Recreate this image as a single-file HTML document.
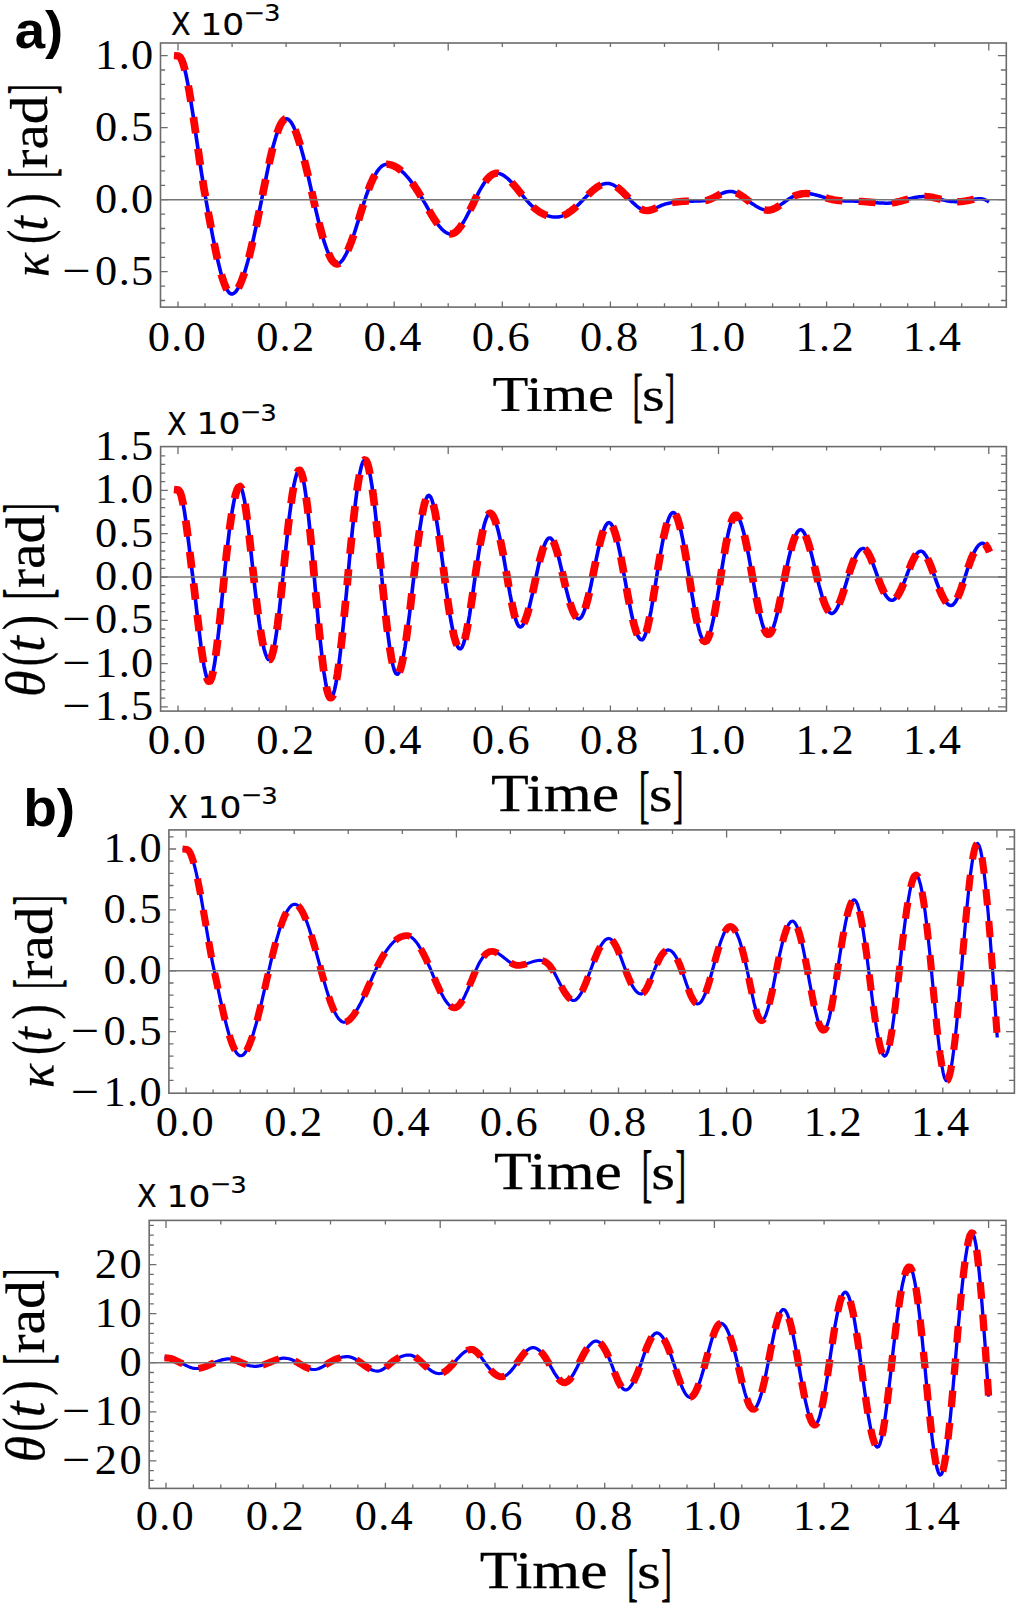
<!DOCTYPE html>
<html lang="en"><head><meta charset="utf-8"><title>Figure</title>
<style>html,body{margin:0;padding:0;background:#fff}svg{display:block}.sf{font-family:"Liberation Serif","DejaVu Serif",serif}.ss{font-family:"Liberation Sans","DejaVu Sans",sans-serif}.sc{font-family:"DejaVu Sans Condensed","DejaVu Sans","Liberation Sans",sans-serif}text{fill:#000}</style></head><body>
<svg width="1025" height="1603" viewBox="0 0 1025 1603">
<rect width="1025" height="1603" fill="#fff"/>
<g>
<path d="M160.5 300.5h4.6M1006.3 300.5h-5.4M160.5 286.1h4.6M1006.3 286.1h-5.4M160.5 271.7h7.2M1006.3 271.7h-8.4M160.5 257.3h4.6M1006.3 257.3h-5.4M160.5 242.9h4.6M1006.3 242.9h-5.4M160.5 228.5h4.6M1006.3 228.5h-5.4M160.5 214.1h4.6M1006.3 214.1h-5.4M160.5 199.7h7.2M1006.3 199.7h-8.4M160.5 185.3h4.6M1006.3 185.3h-5.4M160.5 170.9h4.6M1006.3 170.9h-5.4M160.5 156.5h4.6M1006.3 156.5h-5.4M160.5 142.1h4.6M1006.3 142.1h-5.4M160.5 127.7h7.2M1006.3 127.7h-8.4M160.5 113.3h4.6M1006.3 113.3h-5.4M160.5 98.9h4.6M1006.3 98.9h-5.4M160.5 84.4h4.6M1006.3 84.4h-5.4M160.5 70.0h4.6M1006.3 70.0h-5.4M160.5 55.6h7.2M1006.3 55.6h-8.4M178.0 307.1v-5.6M205.0 307.1v-3.8M232.1 307.1v-3.8M259.1 307.1v-3.8M286.1 307.1v-5.6M313.1 307.1v-3.8M340.2 307.1v-3.8M367.2 307.1v-3.8M394.2 307.1v-5.6M421.2 307.1v-3.8M448.2 307.1v-3.8M475.3 307.1v-3.8M502.3 307.1v-5.6M529.3 307.1v-3.8M556.4 307.1v-3.8M583.4 307.1v-3.8M610.4 307.1v-5.6M637.4 307.1v-3.8M664.5 307.1v-3.8M691.5 307.1v-3.8M718.5 307.1v-5.6M745.5 307.1v-3.8M772.6 307.1v-3.8M799.6 307.1v-3.8M826.6 307.1v-5.6M853.6 307.1v-3.8M880.6 307.1v-3.8M907.7 307.1v-3.8M934.7 307.1v-5.6M961.7 307.1v-3.8M988.8 307.1v-3.8M178.0 43v7.5M232.1 43v4M286.1 43v4M340.2 43v4M394.2 43v4M448.2 43v7.5M502.3 43v4M556.4 43v4M610.4 43v4M664.5 43v4M718.5 43v7.5M772.6 43v4M826.6 43v4M880.6 43v4M934.7 43v4M988.8 43v7.5" stroke="#6c6c6c" stroke-width="1.3" fill="none"/>
<rect x="160.5" y="43" width="845.8" height="264.1" fill="none" stroke="#6c6c6c" stroke-width="1.6"/>
<g transform="scale(1.045 1)" fill="none" stroke-linejoin="round">
<path d="M166.5 55.6L167.9 55.7L169.4 55.8L170.8 55.9L172.2 56.9L173.7 59.5L175.1 63.3L176.6 68.5L178.0 74.7L179.4 82.0L180.9 90.0L182.3 98.8L183.7 108.2L185.2 118.1L186.6 128.2L188.0 138.6L189.5 149.0L190.9 159.4L192.3 169.5L193.8 179.3L195.2 188.7L196.7 197.5L198.1 205.7L199.5 213.9L201.0 222.0L202.4 230.0L203.8 237.7L205.3 245.2L206.7 252.4L208.1 259.2L209.6 265.5L211.0 271.4L212.4 276.7L213.9 281.4L215.3 285.4L216.7 288.8L218.2 291.3L219.6 293.1L221.1 293.9L222.5 293.9L223.9 293.2L225.4 291.9L226.8 290.0L228.2 287.5L229.7 284.5L231.1 281.0L232.5 277.1L234.0 272.7L235.4 267.8L236.8 262.6L238.3 257.1L239.7 251.1L241.1 244.9L242.6 238.4L244.0 231.7L245.5 224.7L246.9 217.5L248.3 210.2L249.8 202.7L251.2 195.2L252.6 187.7L254.1 180.3L255.5 173.1L256.9 166.1L258.4 159.4L259.8 153.0L261.2 147.0L262.7 141.5L264.1 136.4L265.6 131.9L267.0 127.9L268.4 124.6L269.9 122.0L271.3 120.1L272.7 119.0L274.2 118.7L275.6 119.2L277.0 120.4L278.5 122.2L279.9 124.6L281.3 127.6L282.8 131.1L284.2 135.1L285.6 139.6L287.1 144.4L288.5 149.6L290.0 155.2L291.4 161.0L292.8 167.0L294.3 173.3L295.7 179.8L297.1 186.3L298.6 193.0L300.0 199.7L301.4 206.3L302.9 212.8L304.3 219.0L305.7 225.0L307.2 230.7L308.6 236.1L310.0 241.1L311.5 245.7L312.9 249.9L314.4 253.6L315.8 256.8L317.2 259.5L318.7 261.6L320.1 263.0L321.5 263.8L323.0 264.0L324.4 263.5L325.8 262.4L327.3 260.8L328.7 258.7L330.1 256.2L331.6 253.3L333.0 250.0L334.4 246.4L335.9 242.5L337.3 238.3L338.8 234.0L340.2 229.4L341.6 224.8L343.1 220.0L344.5 215.2L345.9 210.4L347.4 205.6L348.8 200.9L350.2 196.4L351.7 192.1L353.1 188.1L354.5 184.4L356.0 180.9L357.4 177.8L358.9 175.0L360.3 172.5L361.7 170.3L363.2 168.4L364.6 166.9L366.0 165.7L367.5 164.9L368.9 164.4L370.3 164.3L371.8 164.4L373.2 164.7L374.6 165.0L376.1 165.6L377.5 166.2L378.9 167.0L380.4 167.9L381.8 169.0L383.3 170.2L384.7 171.4L386.1 172.8L387.6 174.3L389.0 176.0L390.4 177.7L391.9 179.5L393.3 181.4L394.7 183.4L396.2 185.5L397.6 187.7L399.0 190.0L400.5 192.4L401.9 194.8L403.3 197.3L404.8 199.9L406.2 202.5L407.7 205.1L409.1 207.8L410.5 210.4L412.0 213.0L413.4 215.5L414.8 217.9L416.3 220.2L417.7 222.5L419.1 224.5L420.6 226.5L422.0 228.2L423.4 229.8L424.9 231.1L426.3 232.2L427.8 233.1L429.2 233.7L430.6 234.0L432.1 233.9L433.5 233.5L434.9 232.8L436.4 231.7L437.8 230.3L439.2 228.6L440.7 226.6L442.1 224.5L443.5 222.1L445.0 219.5L446.4 216.8L447.8 213.9L449.3 211.0L450.7 208.0L452.2 204.9L453.6 201.8L455.0 198.7L456.5 195.7L457.9 192.8L459.3 190.0L460.8 187.4L462.2 185.0L463.6 182.7L465.1 180.6L466.5 178.8L467.9 177.2L469.4 175.8L470.8 174.7L472.2 173.9L473.7 173.4L475.1 173.2L476.6 173.3L478.0 173.6L479.4 174.1L480.9 174.8L482.3 175.7L483.7 176.8L485.2 178.0L486.6 179.3L488.0 180.8L489.5 182.3L490.9 184.0L492.3 185.7L493.8 187.5L495.2 189.3L496.7 191.2L498.1 193.0L499.5 194.9L501.0 196.7L502.4 198.5L503.8 200.3L505.3 201.9L506.7 203.5L508.1 205.0L509.6 206.4L511.0 207.8L512.4 209.0L513.9 210.1L515.3 211.2L516.7 212.2L518.2 213.0L519.6 213.8L521.1 214.5L522.5 215.2L523.9 215.7L525.4 216.1L526.8 216.5L528.2 216.8L529.7 217.0L531.1 217.1L532.5 217.1L534.0 217.0L535.4 216.7L536.8 216.4L538.3 215.9L539.7 215.2L541.1 214.5L542.6 213.7L544.0 212.7L545.5 211.7L546.9 210.6L548.3 209.4L549.8 208.2L551.2 206.8L552.6 205.5L554.1 204.0L555.5 202.5L556.9 201.0L558.4 199.5L559.8 197.9L561.2 196.4L562.7 194.9L564.1 193.5L565.6 192.1L567.0 190.7L568.4 189.5L569.9 188.3L571.3 187.2L572.7 186.3L574.2 185.4L575.6 184.7L577.0 184.1L578.5 183.7L579.9 183.5L581.3 183.4L582.8 183.5L584.2 183.9L585.6 184.4L587.1 185.0L588.5 185.9L590.0 186.8L591.4 187.9L592.8 189.1L594.3 190.5L595.7 191.8L597.1 193.3L598.6 194.8L600.0 196.4L601.4 198.0L602.9 199.6L604.3 201.2L605.7 202.7L607.2 204.1L608.6 205.5L610.0 206.7L611.5 207.8L612.9 208.7L614.4 209.5L615.8 210.1L617.2 210.4L618.7 210.6L620.1 210.5L621.5 210.3L623.0 209.9L624.4 209.5L625.8 208.9L627.3 208.2L628.7 207.5L630.1 206.8L631.6 206.1L633.0 205.4L634.4 204.8L635.9 204.3L637.3 203.9L638.8 203.5L640.2 203.2L641.6 202.9L643.1 202.6L644.5 202.4L645.9 202.2L647.4 202.0L648.8 201.8L650.2 201.6L651.7 201.5L653.1 201.4L654.5 201.3L656.0 201.2L657.4 201.1L658.9 201.1L660.3 201.1L661.7 201.2L663.2 201.2L664.6 201.1L666.0 201.1L667.5 201.0L668.9 200.9L670.3 200.9L671.8 200.8L673.2 200.7L674.6 200.6L676.1 200.4L677.5 200.0L678.9 199.5L680.4 198.9L681.8 198.2L683.3 197.5L684.7 196.7L686.1 195.9L687.6 195.1L689.0 194.4L690.4 193.7L691.9 193.0L693.3 192.5L694.7 192.0L696.2 191.7L697.6 191.5L699.0 191.4L700.5 191.5L701.9 191.8L703.3 192.3L704.8 192.9L706.2 193.6L707.7 194.5L709.1 195.4L710.5 196.4L712.0 197.5L713.4 198.6L714.8 199.8L716.3 200.9L717.7 202.1L719.1 203.2L720.6 204.2L722.0 205.2L723.4 206.2L724.9 207.0L726.3 207.8L727.8 208.5L729.2 209.1L730.6 209.6L732.1 209.9L733.5 210.1L734.9 210.2L736.4 210.1L737.8 209.8L739.2 209.4L740.7 208.7L742.1 208.0L743.5 207.2L745.0 206.2L746.4 205.2L747.8 204.2L749.3 203.1L750.7 202.0L752.2 200.9L753.6 199.8L755.0 198.8L756.5 197.9L757.9 197.1L759.3 196.4L760.8 195.7L762.2 195.1L763.6 194.7L765.1 194.3L766.5 193.9L767.9 193.7L769.4 193.6L770.8 193.5L772.2 193.5L773.7 193.6L775.1 193.8L776.6 194.0L778.0 194.3L779.4 194.6L780.9 195.0L782.3 195.4L783.7 195.8L785.2 196.2L786.6 196.7L788.0 197.1L789.5 197.6L790.9 198.0L792.3 198.5L793.8 198.9L795.2 199.2L796.7 199.6L798.1 199.9L799.5 200.1L801.0 200.3L802.4 200.5L803.8 200.6L805.3 200.7L806.7 200.8L808.1 200.9L809.6 200.9L811.0 201.0L812.4 201.0L813.9 201.1L815.3 201.1L816.7 201.1L818.2 201.2L819.6 201.2L821.1 201.3L822.5 201.4L823.9 201.4L825.4 201.5L826.8 201.6L828.2 201.8L829.7 201.9L831.1 202.0L832.5 202.2L834.0 202.3L835.4 202.4L836.8 202.5L838.3 202.7L839.7 202.8L841.1 202.9L842.6 203.0L844.0 203.1L845.5 203.1L846.9 203.2L848.3 203.2L849.8 203.2L851.2 203.1L852.6 203.0L854.1 202.8L855.5 202.6L856.9 202.3L858.4 202.0L859.8 201.6L861.2 201.3L862.7 200.9L864.1 200.5L865.6 200.0L867.0 199.6L868.4 199.2L869.9 198.8L871.3 198.5L872.7 198.1L874.2 197.8L875.6 197.5L877.0 197.2L878.5 197.0L879.9 196.8L881.3 196.7L882.8 196.6L884.2 196.5L885.6 196.5L887.1 196.6L888.5 196.7L890.0 196.9L891.4 197.1L892.8 197.4L894.3 197.8L895.7 198.1L897.1 198.5L898.6 198.9L900.0 199.3L901.4 199.7L902.9 200.1L904.3 200.4L905.7 200.7L907.2 201.0L908.6 201.2L910.0 201.4L911.5 201.5L912.9 201.6L914.4 201.7L915.8 201.7L917.2 201.7L918.7 201.6L920.1 201.5L921.5 201.3L923.0 201.1L924.4 200.9L925.8 200.6L927.3 200.3L928.7 200.0L930.1 199.7L931.6 199.4L933.0 199.1L934.4 198.9L935.9 198.8L937.3 198.7L938.8 198.8L940.2 199.0L941.6 199.4L943.1 200.0L944.5 200.7L945.9 201.7L946.4 202.0" stroke="#0000ff" stroke-width="3.5"/>
<path d="M166.5 55.6L167.9 55.7L169.4 55.8L170.8 55.9L172.2 56.9L173.7 59.5L175.1 63.3L176.6 68.5L178.0 74.7L179.4 82.0L180.9 90.0L182.3 98.8L183.7 108.2L185.2 118.1L186.6 128.2L188.0 138.6L189.5 149.0L190.9 159.4L192.3 169.5L193.8 179.3L195.2 188.7L196.7 197.5L198.1 205.7L199.5 213.9L201.0 222.0L202.4 230.0L203.8 237.7L205.3 245.2L206.7 252.4L208.1 259.2L209.6 265.5L211.0 271.4L212.4 276.7L213.9 281.4L215.3 285.4L216.7 288.8L218.2 291.3L219.6 293.1L221.1 293.9L222.5 293.9L223.9 293.2L225.4 291.9L226.8 290.0L228.2 287.5L229.7 284.5L231.1 281.0L232.5 277.1L234.0 272.7L235.4 267.8L236.8 262.6L238.3 257.1L239.7 251.1L241.1 244.9L242.6 238.4L244.0 231.7L245.5 224.7L246.9 217.5L248.3 210.2L249.8 202.7L251.2 195.2L252.6 187.7L254.1 180.3L255.5 173.1L256.9 166.1L258.4 159.4L259.8 153.0L261.2 147.0L262.7 141.5L264.1 136.4L265.6 131.9L267.0 127.9L268.4 124.6L269.9 122.0L271.3 120.1L272.7 119.0L274.2 118.7L275.6 119.2L277.0 120.4L278.5 122.2L279.9 124.6L281.3 127.6L282.8 131.1L284.2 135.1L285.6 139.6L287.1 144.4L288.5 149.6L290.0 155.2L291.4 161.0L292.8 167.0L294.3 173.3L295.7 179.8L297.1 186.3L298.6 193.0L300.0 199.7L301.4 206.3L302.9 212.8L304.3 219.0L305.7 225.0L307.2 230.7L308.6 236.1L310.0 241.1L311.5 245.7L312.9 249.9L314.4 253.6L315.8 256.8L317.2 259.5L318.7 261.6L320.1 263.0L321.5 263.8L323.0 264.0L324.4 263.5L325.8 262.4L327.3 260.8L328.7 258.7L330.1 256.2L331.6 253.3L333.0 250.0L334.4 246.4L335.9 242.5L337.3 238.3L338.8 234.0L340.2 229.4L341.6 224.8L343.1 220.0L344.5 215.2L345.9 210.4L347.4 205.6L348.8 200.9L350.2 196.4L351.7 192.1L353.1 188.1L354.5 184.4L356.0 180.9L357.4 177.8L358.9 175.0L360.3 172.5L361.7 170.3L363.2 168.4L364.6 166.9L366.0 165.7L367.5 164.9L368.9 164.4L370.3 164.3L371.8 164.4L373.2 164.7L374.6 165.0L376.1 165.6L377.5 166.2L378.9 167.0L380.4 167.9L381.8 169.0L383.3 170.2L384.7 171.4L386.1 172.8L387.6 174.3L389.0 176.0L390.4 177.7L391.9 179.5L393.3 181.4L394.7 183.4L396.2 185.5L397.6 187.7L399.0 190.0L400.5 192.4L401.9 194.8L403.3 197.3L404.8 199.9L406.2 202.5L407.7 205.1L409.1 207.8L410.5 210.4L412.0 213.0L413.4 215.5L414.8 217.9L416.3 220.2L417.7 222.5L419.1 224.5L420.6 226.5L422.0 228.2L423.4 229.8L424.9 231.1L426.3 232.2L427.8 233.1L429.2 233.7L430.6 234.0L432.1 233.9L433.5 233.5L434.9 232.8L436.4 231.7L437.8 230.3L439.2 228.6L440.7 226.6L442.1 224.5L443.5 222.1L445.0 219.5L446.4 216.8L447.8 213.9L449.3 211.0L450.7 208.0L452.2 204.9L453.6 201.8L455.0 198.7L456.5 195.7L457.9 192.8L459.3 190.0L460.8 187.4L462.2 185.0L463.6 182.7L465.1 180.6L466.5 178.8L467.9 177.2L469.4 175.8L470.8 174.7L472.2 173.9L473.7 173.4L475.1 173.2L476.6 173.3L478.0 173.6L479.4 174.1L480.9 174.8L482.3 175.7L483.7 176.8L485.2 178.0L486.6 179.3L488.0 180.8L489.5 182.3L490.9 184.0L492.3 185.7L493.8 187.5L495.2 189.3L496.7 191.2L498.1 193.0L499.5 194.9L501.0 196.7L502.4 198.5L503.8 200.3L505.3 201.9L506.7 203.5L508.1 205.0L509.6 206.4L511.0 207.8L512.4 209.0L513.9 210.1L515.3 211.2L516.7 212.2L518.2 213.0L519.6 213.8L521.1 214.5L522.5 215.2L523.9 215.7L525.4 216.1L526.8 216.5L528.2 216.8L529.7 217.0L531.1 217.1L532.5 217.1L534.0 217.0L535.4 216.7L536.8 216.4L538.3 215.9L539.7 215.2L541.1 214.5L542.6 213.7L544.0 212.7L545.5 211.7L546.9 210.6L548.3 209.4L549.8 208.2L551.2 206.8L552.6 205.5L554.1 204.0L555.5 202.5L556.9 201.0L558.4 199.5L559.8 197.9L561.2 196.4L562.7 194.9L564.1 193.5L565.6 192.1L567.0 190.7L568.4 189.5L569.9 188.3L571.3 187.2L572.7 186.3L574.2 185.4L575.6 184.7L577.0 184.1L578.5 183.7L579.9 183.5L581.3 183.4L582.8 183.5L584.2 183.9L585.6 184.4L587.1 185.0L588.5 185.9L590.0 186.8L591.4 187.9L592.8 189.1L594.3 190.5L595.7 191.8L597.1 193.3L598.6 194.8L600.0 196.4L601.4 198.0L602.9 199.6L604.3 201.2L605.7 202.7L607.2 204.1L608.6 205.5L610.0 206.7L611.5 207.8L612.9 208.7L614.4 209.5L615.8 210.1L617.2 210.4L618.7 210.6L620.1 210.5L621.5 210.3L623.0 209.9L624.4 209.5L625.8 208.9L627.3 208.2L628.7 207.5L630.1 206.8L631.6 206.1L633.0 205.4L634.4 204.8L635.9 204.3L637.3 203.9L638.8 203.5L640.2 203.2L641.6 202.9L643.1 202.6L644.5 202.4L645.9 202.2L647.4 202.0L648.8 201.8L650.2 201.6L651.7 201.5L653.1 201.4L654.5 201.3L656.0 201.2L657.4 201.1L658.9 201.1L660.3 201.1L661.7 201.2L663.2 201.2L664.6 201.1L666.0 201.1L667.5 201.0L668.9 200.9L670.3 200.9L671.8 200.8L673.2 200.7L674.6 200.6L676.1 200.4L677.5 200.0L678.9 199.5L680.4 198.9L681.8 198.2L683.3 197.5L684.7 196.7L686.1 195.9L687.6 195.1L689.0 194.4L690.4 193.7L691.9 193.0L693.3 192.5L694.7 192.0L696.2 191.7L697.6 191.5L699.0 191.4L700.5 191.5L701.9 191.8L703.3 192.3L704.8 192.9L706.2 193.6L707.7 194.5L709.1 195.4L710.5 196.4L712.0 197.5L713.4 198.6L714.8 199.8L716.3 200.9L717.7 202.1L719.1 203.2L720.6 204.2L722.0 205.2L723.4 206.2L724.9 207.0L726.3 207.8L727.8 208.5L729.2 209.1L730.6 209.6L732.1 209.9L733.5 210.1L734.9 210.2L736.4 210.1L737.8 209.8L739.2 209.4L740.7 208.7L742.1 208.0L743.5 207.2L745.0 206.2L746.4 205.2L747.8 204.2L749.3 203.1L750.7 202.0L752.2 200.9L753.6 199.8L755.0 198.8L756.5 197.9L757.9 197.1L759.3 196.4L760.8 195.7L762.2 195.1L763.6 194.7L765.1 194.3L766.5 193.9L767.9 193.7L769.4 193.6L770.8 193.5L772.2 193.5L773.7 193.6L775.1 193.8L776.6 194.0L778.0 194.3L779.4 194.6L780.9 195.0L782.3 195.4L783.7 195.8L785.2 196.2L786.6 196.7L788.0 197.1L789.5 197.6L790.9 198.0L792.3 198.5L793.8 198.9L795.2 199.2L796.7 199.6L798.1 199.9L799.5 200.1L801.0 200.3L802.4 200.5L803.8 200.6L805.3 200.7L806.7 200.8L808.1 200.9L809.6 200.9L811.0 201.0L812.4 201.0L813.9 201.1L815.3 201.1L816.7 201.1L818.2 201.2L819.6 201.2L821.1 201.3L822.5 201.4L823.9 201.4L825.4 201.5L826.8 201.6L828.2 201.8L829.7 201.9L831.1 202.0L832.5 202.2L834.0 202.3L835.4 202.4L836.8 202.5L838.3 202.7L839.7 202.8L841.1 202.9L842.6 203.0L844.0 203.1L845.5 203.1L846.9 203.2L848.3 203.2L849.8 203.2L851.2 203.1L852.6 203.0L854.1 202.8L855.5 202.6L856.9 202.3L858.4 202.0L859.8 201.6L861.2 201.3L862.7 200.9L864.1 200.5L865.6 200.0L867.0 199.6L868.4 199.2L869.9 198.8L871.3 198.5L872.7 198.1L874.2 197.8L875.6 197.5L877.0 197.2L878.5 197.0L879.9 196.8L881.3 196.7L882.8 196.6L884.2 196.5L885.6 196.5L887.1 196.6L888.5 196.7L890.0 196.9L891.4 197.1L892.8 197.4L894.3 197.8L895.7 198.1L897.1 198.5L898.6 198.9L900.0 199.3L901.4 199.7L902.9 200.1L904.3 200.4L905.7 200.7L907.2 201.0L908.6 201.2L910.0 201.4L911.5 201.5L912.9 201.6L914.4 201.7L915.8 201.7L917.2 201.7L918.7 201.6L920.1 201.5L921.5 201.3L923.0 201.1L924.4 200.9L925.8 200.6L927.3 200.3L928.7 200.0L930.1 199.7L931.6 199.4L933.0 199.1L934.4 198.9L935.9 198.8L937.3 198.7L938.8 198.8L940.2 199.0L941.6 199.4L943.1 200.0L944.5 200.7L945.9 201.7L946.4 202.0" stroke="#ff0000" stroke-width="7.4" stroke-dasharray="16.3 15.6" stroke-dashoffset="-4.11"/>
<path d="M166.5 55.6L170.9 55.9" stroke="#ff0000" stroke-width="7.4"/>
</g>
<line x1="160.5" y1="199.7" x2="1006.3" y2="199.7" stroke="#757575" stroke-width="1.5"/>
</g>
<g>
<path d="M160.6 706.9h7.2M1006.4 706.9h-8.4M160.6 698.2h4.6M1006.4 698.2h-5.4M160.6 689.6h4.6M1006.4 689.6h-5.4M160.6 680.9h4.6M1006.4 680.9h-5.4M160.6 672.3h4.6M1006.4 672.3h-5.4M160.6 663.6h7.2M1006.4 663.6h-8.4M160.6 654.9h4.6M1006.4 654.9h-5.4M160.6 646.3h4.6M1006.4 646.3h-5.4M160.6 637.6h4.6M1006.4 637.6h-5.4M160.6 629.0h4.6M1006.4 629.0h-5.4M160.6 620.3h7.2M1006.4 620.3h-8.4M160.6 611.6h4.6M1006.4 611.6h-5.4M160.6 603.0h4.6M1006.4 603.0h-5.4M160.6 594.3h4.6M1006.4 594.3h-5.4M160.6 585.7h4.6M1006.4 585.7h-5.4M160.6 577.0h7.2M1006.4 577.0h-8.4M160.6 568.3h4.6M1006.4 568.3h-5.4M160.6 559.7h4.6M1006.4 559.7h-5.4M160.6 551.0h4.6M1006.4 551.0h-5.4M160.6 542.4h4.6M1006.4 542.4h-5.4M160.6 533.7h7.2M1006.4 533.7h-8.4M160.6 525.0h4.6M1006.4 525.0h-5.4M160.6 516.4h4.6M1006.4 516.4h-5.4M160.6 507.7h4.6M1006.4 507.7h-5.4M160.6 499.1h4.6M1006.4 499.1h-5.4M160.6 490.4h7.2M1006.4 490.4h-8.4M160.6 481.7h4.6M1006.4 481.7h-5.4M160.6 473.1h4.6M1006.4 473.1h-5.4M160.6 464.4h4.6M1006.4 464.4h-5.4M160.6 455.8h4.6M1006.4 455.8h-5.4M178.0 711.1v-5.6M205.0 711.1v-3.8M232.1 711.1v-3.8M259.1 711.1v-3.8M286.1 711.1v-5.6M313.1 711.1v-3.8M340.2 711.1v-3.8M367.2 711.1v-3.8M394.2 711.1v-5.6M421.2 711.1v-3.8M448.2 711.1v-3.8M475.3 711.1v-3.8M502.3 711.1v-5.6M529.3 711.1v-3.8M556.4 711.1v-3.8M583.4 711.1v-3.8M610.4 711.1v-5.6M637.4 711.1v-3.8M664.5 711.1v-3.8M691.5 711.1v-3.8M718.5 711.1v-5.6M745.5 711.1v-3.8M772.6 711.1v-3.8M799.6 711.1v-3.8M826.6 711.1v-5.6M853.6 711.1v-3.8M880.6 711.1v-3.8M907.7 711.1v-3.8M934.7 711.1v-5.6M961.7 711.1v-3.8M988.8 711.1v-3.8M178.0 446.6v7.5M232.1 446.6v4M286.1 446.6v4M340.2 446.6v4M394.2 446.6v4M448.2 446.6v7.5M502.3 446.6v4M556.4 446.6v4M610.4 446.6v4M664.5 446.6v4M718.5 446.6v7.5M772.6 446.6v4M826.6 446.6v4M880.6 446.6v4M934.7 446.6v4M988.8 446.6v7.5" stroke="#6c6c6c" stroke-width="1.3" fill="none"/>
<rect x="160.6" y="446.6" width="845.8" height="264.5" fill="none" stroke="#6c6c6c" stroke-width="1.6"/>
<g transform="scale(1.045 1)" fill="none" stroke-linejoin="round">
<path d="M166.5 489.5L167.9 489.6L169.4 489.9L170.8 490.0L172.2 491.9L173.7 496.4L175.1 503.2L176.6 512.0L178.0 522.2L179.4 533.5L180.9 545.6L182.3 558.1L183.7 570.5L185.2 582.7L186.6 595.4L188.0 608.4L189.5 621.3L190.9 633.9L192.3 645.8L193.8 656.5L195.2 665.8L196.7 673.3L198.1 678.6L199.5 681.4L201.0 681.2L202.4 678.1L203.8 672.2L205.3 663.9L206.7 653.6L208.1 641.6L209.6 628.3L211.0 614.1L212.4 599.2L213.9 584.1L215.3 569.1L216.7 554.9L218.2 541.7L219.6 529.5L221.1 518.6L222.5 509.1L223.9 501.1L225.4 494.6L226.8 490.0L228.2 487.2L229.7 486.4L231.1 488.4L232.5 493.3L234.0 500.7L235.4 510.2L236.8 521.3L238.3 533.8L239.7 547.2L241.1 561.1L242.6 575.1L244.0 588.8L245.5 601.6L246.9 613.4L248.3 624.1L249.8 633.7L251.2 641.9L252.6 648.7L254.1 654.0L255.5 657.7L256.9 659.6L258.4 659.6L259.8 657.1L261.2 652.1L262.7 645.0L264.1 636.0L265.6 625.3L267.0 613.2L268.4 600.0L269.9 585.8L271.3 571.1L272.7 556.4L274.2 542.1L275.6 528.4L277.0 515.6L278.5 503.9L279.9 493.6L281.3 484.8L282.8 477.9L284.2 473.0L285.6 470.4L287.1 470.3L288.5 473.1L290.0 478.5L291.4 486.2L292.8 496.1L294.3 507.8L295.7 521.1L297.1 535.7L298.6 551.4L300.0 567.9L301.4 585.0L302.9 601.8L304.3 618.0L305.7 633.5L307.2 647.8L308.6 660.9L310.0 672.4L311.5 682.1L312.9 689.8L314.4 695.1L315.8 697.8L317.2 697.7L318.7 695.1L320.1 690.1L321.5 683.1L323.0 674.1L324.4 663.4L325.8 651.3L327.3 637.9L328.7 623.4L330.1 608.1L331.6 592.2L333.0 575.9L334.4 559.7L335.9 544.0L337.3 529.1L338.8 515.1L340.2 502.2L341.6 490.6L343.1 480.6L344.5 472.3L345.9 465.9L347.4 461.7L348.8 459.8L350.2 460.4L351.7 463.6L353.1 469.2L354.5 476.8L356.0 486.3L357.4 497.4L358.9 509.9L360.3 523.5L361.7 538.0L363.2 553.1L364.6 568.6L366.0 584.3L367.5 599.3L368.9 613.6L370.3 626.8L371.8 638.8L373.2 649.4L374.6 658.4L376.1 665.6L377.5 670.8L378.9 673.7L380.4 674.3L381.8 672.6L383.3 668.8L384.7 663.2L386.1 655.9L387.6 647.1L389.0 637.1L390.4 626.0L391.9 614.0L393.3 601.5L394.7 588.5L396.2 575.2L397.6 562.3L399.0 549.9L400.5 538.3L401.9 527.8L403.3 518.4L404.8 510.3L406.2 503.8L407.7 499.0L409.1 496.1L410.5 495.3L412.0 496.7L413.4 500.1L414.8 505.3L416.3 512.0L417.7 520.1L419.1 529.4L420.6 539.5L422.0 550.3L423.4 561.6L424.9 573.1L426.3 584.6L427.8 595.6L429.2 605.8L430.6 615.3L432.1 623.9L433.5 631.4L434.9 637.8L436.4 642.8L437.8 646.5L439.2 648.5L440.7 648.9L442.1 647.3L443.5 643.8L445.0 638.6L446.4 632.0L447.8 624.1L449.3 615.2L450.7 605.6L452.2 595.4L453.6 584.8L455.0 574.2L456.5 563.9L457.9 554.2L459.3 545.2L460.8 537.1L462.2 530.0L463.6 523.9L465.1 519.1L466.5 515.6L467.9 513.6L469.4 513.2L470.8 514.3L472.2 516.6L473.7 520.1L475.1 524.6L476.6 530.0L478.0 536.3L479.4 543.3L480.9 550.9L482.3 559.1L483.7 567.6L485.2 576.4L486.6 585.2L488.0 593.7L489.5 601.7L490.9 608.9L492.3 615.2L493.8 620.4L495.2 624.2L496.7 626.5L498.1 627.1L499.5 626.2L501.0 624.0L502.4 620.8L503.8 616.7L505.3 611.8L506.7 606.1L508.1 599.9L509.6 593.3L511.0 586.4L512.4 579.4L513.9 572.3L515.3 565.6L516.7 559.4L518.2 553.8L519.6 548.8L521.1 544.7L522.5 541.4L523.9 539.1L525.4 537.9L526.8 538.0L528.2 539.4L529.7 541.9L531.1 545.5L532.5 550.0L534.0 555.1L535.4 560.9L536.8 567.1L538.3 573.5L539.7 580.0L541.1 586.4L542.6 592.4L544.0 598.0L545.5 603.1L546.9 607.6L548.3 611.5L549.8 614.7L551.2 617.0L552.6 618.4L554.1 618.9L555.5 618.1L556.9 616.2L558.4 613.0L559.8 608.9L561.2 603.9L562.7 598.2L564.1 591.8L565.6 584.8L567.0 577.5L568.4 570.0L569.9 562.6L571.3 555.5L572.7 548.8L574.2 542.6L575.6 536.9L577.0 532.1L578.5 528.1L579.9 525.1L581.3 523.2L582.8 522.5L584.2 523.2L585.6 525.2L587.1 528.4L588.5 532.6L590.0 537.8L591.4 543.9L592.8 550.7L594.3 558.1L595.7 565.9L597.1 574.2L598.6 582.6L600.0 591.0L601.4 599.0L602.9 606.7L604.3 613.8L605.7 620.4L607.2 626.2L608.6 631.1L610.0 635.1L611.5 638.0L612.9 639.6L614.4 639.9L615.8 638.6L617.2 635.5L618.7 631.1L620.1 625.3L621.5 618.5L623.0 610.8L624.4 602.3L625.8 593.3L627.3 584.0L628.7 574.5L630.1 565.2L631.6 556.3L633.0 548.0L634.4 540.2L635.9 533.2L637.3 527.1L638.8 521.9L640.2 517.7L641.6 514.6L643.1 512.9L644.5 512.4L645.9 513.5L647.4 516.1L648.8 519.9L650.2 525.0L651.7 531.1L653.1 538.1L654.5 545.8L656.0 554.3L657.4 563.2L658.9 572.6L660.3 582.1L661.7 591.4L663.2 600.4L664.6 608.9L666.0 616.7L667.5 623.7L668.9 629.7L670.3 634.7L671.8 638.4L673.2 640.8L674.6 641.6L676.1 640.8L677.5 638.4L678.9 634.6L680.4 629.5L681.8 623.3L683.3 616.2L684.7 608.2L686.1 599.6L687.6 590.4L689.0 580.9L690.4 571.2L691.9 561.8L693.3 552.8L694.7 544.3L696.2 536.7L697.6 529.9L699.0 524.3L700.5 519.8L701.9 516.8L703.3 515.2L704.8 515.3L706.2 516.8L707.7 519.5L709.1 523.3L710.5 528.1L712.0 533.8L713.4 540.2L714.8 547.3L716.3 554.9L717.7 563.0L719.1 571.3L720.6 579.8L722.0 588.2L723.4 596.3L724.9 603.9L726.3 611.0L727.8 617.3L729.2 622.9L730.6 627.5L732.1 631.0L733.5 633.4L734.9 634.4L736.4 634.1L737.8 632.4L739.2 629.4L740.7 625.4L742.1 620.4L743.5 614.6L745.0 608.1L746.4 601.2L747.8 593.8L749.3 586.2L750.7 578.5L752.2 571.0L753.6 563.8L755.0 557.2L756.5 551.0L757.9 545.5L759.3 540.7L760.8 536.7L762.2 533.5L763.6 531.2L765.1 529.9L766.5 529.6L767.9 530.5L769.4 532.5L770.8 535.4L772.2 539.2L773.7 543.7L775.1 548.8L776.6 554.4L778.0 560.3L779.4 566.5L780.9 572.8L782.3 579.1L783.7 585.1L785.2 590.7L786.6 595.9L788.0 600.5L789.5 604.6L790.9 607.9L792.3 610.6L793.8 612.4L795.2 613.4L796.7 613.4L798.1 612.5L799.5 610.8L801.0 608.3L802.4 605.2L803.8 601.6L805.3 597.5L806.7 593.1L808.1 588.4L809.6 583.5L811.0 578.6L812.4 573.8L813.9 569.2L815.3 565.0L816.7 561.1L818.2 557.7L819.6 554.7L821.1 552.3L822.5 550.4L823.9 549.1L825.4 548.5L826.8 548.6L828.2 549.5L829.7 551.3L831.1 553.7L832.5 556.6L834.0 560.1L835.4 563.9L836.8 567.9L838.3 572.2L839.7 576.4L841.1 580.6L842.6 584.5L844.0 588.1L845.5 591.3L846.9 594.1L848.3 596.5L849.8 598.3L851.2 599.6L852.6 600.3L854.1 600.3L855.5 599.7L856.9 598.4L858.4 596.6L859.8 594.3L861.2 591.5L862.7 588.4L864.1 584.9L865.6 581.2L867.0 577.3L868.4 573.3L869.9 569.4L871.3 565.7L872.7 562.2L874.2 559.0L875.6 556.3L877.0 554.1L878.5 552.4L879.9 551.4L881.3 551.1L882.8 551.6L884.2 552.9L885.6 554.9L887.1 557.5L888.5 560.6L890.0 564.1L891.4 567.9L892.8 571.9L894.3 576.1L895.7 580.4L897.1 584.4L898.6 588.3L900.0 591.9L901.4 595.2L902.9 598.2L904.3 600.7L905.7 602.8L907.2 604.3L908.6 605.3L910.0 605.6L911.5 605.1L912.9 603.8L914.4 601.7L915.8 599.0L917.2 595.6L918.7 591.8L920.1 587.6L921.5 583.2L923.0 578.6L924.4 573.9L925.8 569.3L927.3 565.0L928.7 560.9L930.1 557.1L931.6 553.6L933.0 550.6L934.4 548.0L935.9 545.9L937.3 544.4L938.8 543.5L940.2 543.2L941.6 543.7L943.1 544.9L944.5 546.9L945.9 549.7L946.9 552.0" stroke="#0000ff" stroke-width="3.5"/>
<path d="M166.5 489.5L167.9 489.6L169.4 489.9L170.8 490.0L172.2 491.9L173.7 496.4L175.1 503.2L176.6 512.0L178.0 522.2L179.4 533.5L180.9 545.6L182.3 558.1L183.7 570.5L185.2 582.7L186.6 595.4L188.0 608.4L189.5 621.3L190.9 633.9L192.3 645.8L193.8 656.5L195.2 665.8L196.7 673.3L198.1 678.6L199.5 681.4L201.0 681.2L202.4 678.1L203.8 672.2L205.3 663.9L206.7 653.6L208.1 641.6L209.6 628.3L211.0 614.1L212.4 599.2L213.9 584.1L215.3 569.1L216.7 554.9L218.2 541.7L219.6 529.5L221.1 518.6L222.5 509.1L223.9 501.1L225.4 494.6L226.8 490.0L228.2 487.2L229.7 486.4L231.1 488.4L232.5 493.3L234.0 500.7L235.4 510.2L236.8 521.3L238.3 533.8L239.7 547.2L241.1 561.1L242.6 575.1L244.0 588.8L245.5 601.6L246.9 613.4L248.3 624.1L249.8 633.7L251.2 641.9L252.6 648.7L254.1 654.0L255.5 657.7L256.9 659.6L258.4 659.6L259.8 657.1L261.2 652.1L262.7 645.0L264.1 636.0L265.6 625.3L267.0 613.2L268.4 600.0L269.9 585.8L271.3 571.1L272.7 556.4L274.2 542.1L275.6 528.4L277.0 515.6L278.5 503.9L279.9 493.6L281.3 484.8L282.8 477.9L284.2 473.0L285.6 470.4L287.1 470.3L288.5 473.1L290.0 478.5L291.4 486.2L292.8 496.1L294.3 507.8L295.7 521.1L297.1 535.7L298.6 551.4L300.0 567.9L301.4 585.0L302.9 601.8L304.3 618.0L305.7 633.5L307.2 647.8L308.6 660.9L310.0 672.4L311.5 682.1L312.9 689.8L314.4 695.1L315.8 697.8L317.2 697.7L318.7 695.1L320.1 690.1L321.5 683.1L323.0 674.1L324.4 663.4L325.8 651.3L327.3 637.9L328.7 623.4L330.1 608.1L331.6 592.2L333.0 575.9L334.4 559.7L335.9 544.0L337.3 529.1L338.8 515.1L340.2 502.2L341.6 490.6L343.1 480.6L344.5 472.3L345.9 465.9L347.4 461.7L348.8 459.8L350.2 460.4L351.7 463.6L353.1 469.2L354.5 476.8L356.0 486.3L357.4 497.4L358.9 509.9L360.3 523.5L361.7 538.0L363.2 553.1L364.6 568.6L366.0 584.3L367.5 599.3L368.9 613.6L370.3 626.8L371.8 638.8L373.2 649.4L374.6 658.4L376.1 665.6L377.5 670.8L378.9 673.7L380.4 674.3L381.8 672.6L383.3 668.8L384.7 663.2L386.1 655.9L387.6 647.1L389.0 637.1L390.4 626.0L391.9 614.0L393.3 601.5L394.7 588.5L396.2 575.2L397.6 562.3L399.0 549.9L400.5 538.3L401.9 527.8L403.3 518.4L404.8 510.3L406.2 503.8L407.7 499.0L409.1 496.1L410.5 495.3L412.0 496.7L413.4 500.1L414.8 505.3L416.3 512.0L417.7 520.1L419.1 529.4L420.6 539.5L422.0 550.3L423.4 561.6L424.9 573.1L426.3 584.6L427.8 595.6L429.2 605.8L430.6 615.3L432.1 623.9L433.5 631.4L434.9 637.8L436.4 642.8L437.8 646.5L439.2 648.5L440.7 648.9L442.1 647.3L443.5 643.8L445.0 638.6L446.4 632.0L447.8 624.1L449.3 615.2L450.7 605.6L452.2 595.4L453.6 584.8L455.0 574.2L456.5 563.9L457.9 554.2L459.3 545.2L460.8 537.1L462.2 530.0L463.6 523.9L465.1 519.1L466.5 515.6L467.9 513.6L469.4 513.2L470.8 514.3L472.2 516.6L473.7 520.1L475.1 524.6L476.6 530.0L478.0 536.3L479.4 543.3L480.9 550.9L482.3 559.1L483.7 567.6L485.2 576.4L486.6 585.2L488.0 593.7L489.5 601.7L490.9 608.9L492.3 615.2L493.8 620.4L495.2 624.2L496.7 626.5L498.1 627.1L499.5 626.2L501.0 624.0L502.4 620.8L503.8 616.7L505.3 611.8L506.7 606.1L508.1 599.9L509.6 593.3L511.0 586.4L512.4 579.4L513.9 572.3L515.3 565.6L516.7 559.4L518.2 553.8L519.6 548.8L521.1 544.7L522.5 541.4L523.9 539.1L525.4 537.9L526.8 538.0L528.2 539.4L529.7 541.9L531.1 545.5L532.5 550.0L534.0 555.1L535.4 560.9L536.8 567.1L538.3 573.5L539.7 580.0L541.1 586.4L542.6 592.4L544.0 598.0L545.5 603.1L546.9 607.6L548.3 611.5L549.8 614.7L551.2 617.0L552.6 618.4L554.1 618.9L555.5 618.1L556.9 616.2L558.4 613.0L559.8 608.9L561.2 603.9L562.7 598.2L564.1 591.8L565.6 584.8L567.0 577.5L568.4 570.0L569.9 562.6L571.3 555.5L572.7 548.8L574.2 542.6L575.6 536.9L577.0 532.1L578.5 528.1L579.9 525.1L581.3 523.2L582.8 522.5L584.2 523.2L585.6 525.2L587.1 528.4L588.5 532.6L590.0 537.8L591.4 543.9L592.8 550.7L594.3 558.1L595.7 565.9L597.1 574.2L598.6 582.6L600.0 591.0L601.4 599.0L602.9 606.7L604.3 613.8L605.7 620.4L607.2 626.2L608.6 631.1L610.0 635.1L611.5 638.0L612.9 639.6L614.4 639.9L615.8 638.6L617.2 635.5L618.7 631.1L620.1 625.3L621.5 618.5L623.0 610.8L624.4 602.3L625.8 593.3L627.3 584.0L628.7 574.5L630.1 565.2L631.6 556.3L633.0 548.0L634.4 540.2L635.9 533.2L637.3 527.1L638.8 521.9L640.2 517.7L641.6 514.6L643.1 512.9L644.5 512.4L645.9 513.5L647.4 516.1L648.8 519.9L650.2 525.0L651.7 531.1L653.1 538.1L654.5 545.8L656.0 554.3L657.4 563.2L658.9 572.6L660.3 582.1L661.7 591.4L663.2 600.4L664.6 608.9L666.0 616.7L667.5 623.7L668.9 629.7L670.3 634.7L671.8 638.4L673.2 640.8L674.6 641.6L676.1 640.8L677.5 638.4L678.9 634.6L680.4 629.5L681.8 623.3L683.3 616.2L684.7 608.2L686.1 599.6L687.6 590.4L689.0 580.9L690.4 571.2L691.9 561.8L693.3 552.8L694.7 544.3L696.2 536.7L697.6 529.9L699.0 524.3L700.5 519.8L701.9 516.8L703.3 515.2L704.8 515.3L706.2 516.8L707.7 519.5L709.1 523.3L710.5 528.1L712.0 533.8L713.4 540.2L714.8 547.3L716.3 554.9L717.7 563.0L719.1 571.3L720.6 579.8L722.0 588.2L723.4 596.3L724.9 603.9L726.3 611.0L727.8 617.3L729.2 622.9L730.6 627.5L732.1 631.0L733.5 633.4L734.9 634.4L736.4 634.1L737.8 632.4L739.2 629.4L740.7 625.4L742.1 620.4L743.5 614.6L745.0 608.1L746.4 601.2L747.8 593.8L749.3 586.2L750.7 578.5L752.2 571.0L753.6 563.8L755.0 557.2L756.5 551.0L757.9 545.5L759.3 540.7L760.8 536.7L762.2 533.5L763.6 531.2L765.1 529.9L766.5 529.6L767.9 530.5L769.4 532.5L770.8 535.4L772.2 539.2L773.7 543.7L775.1 548.8L776.6 554.4L778.0 560.3L779.4 566.5L780.9 572.8L782.3 579.1L783.7 585.1L785.2 590.7L786.6 595.9L788.0 600.5L789.5 604.6L790.9 607.9L792.3 610.6L793.8 612.4L795.2 613.4L796.7 613.4L798.1 612.5L799.5 610.8L801.0 608.3L802.4 605.2L803.8 601.6L805.3 597.5L806.7 593.1L808.1 588.4L809.6 583.5L811.0 578.6L812.4 573.8L813.9 569.2L815.3 565.0L816.7 561.1L818.2 557.7L819.6 554.7L821.1 552.3L822.5 550.4L823.9 549.1L825.4 548.5L826.8 548.6L828.2 549.5L829.7 551.3L831.1 553.7L832.5 556.6L834.0 560.1L835.4 563.9L836.8 567.9L838.3 572.2L839.7 576.4L841.1 580.6L842.6 584.5L844.0 588.1L845.5 591.3L846.9 594.1L848.3 596.5L849.8 598.3L851.2 599.6L852.6 600.3L854.1 600.3L855.5 599.7L856.9 598.4L858.4 596.6L859.8 594.3L861.2 591.5L862.7 588.4L864.1 584.9L865.6 581.2L867.0 577.3L868.4 573.3L869.9 569.4L871.3 565.7L872.7 562.2L874.2 559.0L875.6 556.3L877.0 554.1L878.5 552.4L879.9 551.4L881.3 551.1L882.8 551.6L884.2 552.9L885.6 554.9L887.1 557.5L888.5 560.6L890.0 564.1L891.4 567.9L892.8 571.9L894.3 576.1L895.7 580.4L897.1 584.4L898.6 588.3L900.0 591.9L901.4 595.2L902.9 598.2L904.3 600.7L905.7 602.8L907.2 604.3L908.6 605.3L910.0 605.6L911.5 605.1L912.9 603.8L914.4 601.7L915.8 599.0L917.2 595.6L918.7 591.8L920.1 587.6L921.5 583.2L923.0 578.6L924.4 573.9L925.8 569.3L927.3 565.0L928.7 560.9L930.1 557.1L931.6 553.6L933.0 550.6L934.4 548.0L935.9 545.9L937.3 544.4L938.8 543.5L940.2 543.2L941.6 543.7L943.1 544.9L944.5 546.9L945.9 549.7L946.9 552.0" stroke="#ff0000" stroke-width="7.4" stroke-dasharray="16.21 15.5" stroke-dashoffset="-4.11"/>
<path d="M166.5 489.5L170.9 490.0" stroke="#ff0000" stroke-width="7.4"/>
</g>
<line x1="160.6" y1="577.0" x2="1006.4" y2="577.0" stroke="#757575" stroke-width="1.5"/>
</g>
<g>
<path d="M168.9 1080.4h4.6M1014.4 1080.4h-5.4M168.9 1068.2h4.6M1014.4 1068.2h-5.4M168.9 1056.1h4.6M1014.4 1056.1h-5.4M168.9 1043.9h4.6M1014.4 1043.9h-5.4M168.9 1031.7h7.2M1014.4 1031.7h-8.4M168.9 1019.5h4.6M1014.4 1019.5h-5.4M168.9 1007.3h4.6M1014.4 1007.3h-5.4M168.9 995.2h4.6M1014.4 995.2h-5.4M168.9 983.0h4.6M1014.4 983.0h-5.4M168.9 970.8h7.2M1014.4 970.8h-8.4M168.9 958.6h4.6M1014.4 958.6h-5.4M168.9 946.4h4.6M1014.4 946.4h-5.4M168.9 934.3h4.6M1014.4 934.3h-5.4M168.9 922.1h4.6M1014.4 922.1h-5.4M168.9 909.9h7.2M1014.4 909.9h-8.4M168.9 897.7h4.6M1014.4 897.7h-5.4M168.9 885.5h4.6M1014.4 885.5h-5.4M168.9 873.4h4.6M1014.4 873.4h-5.4M168.9 861.2h4.6M1014.4 861.2h-5.4M168.9 849.0h7.2M1014.4 849.0h-8.4M168.9 836.8h4.6M1014.4 836.8h-5.4M186.1 1093.2v-5.6M213.1 1093.2v-3.8M240.2 1093.2v-3.8M267.2 1093.2v-3.8M294.2 1093.2v-5.6M321.2 1093.2v-3.8M348.2 1093.2v-3.8M375.3 1093.2v-3.8M402.3 1093.2v-5.6M429.3 1093.2v-3.8M456.4 1093.2v-3.8M483.4 1093.2v-3.8M510.4 1093.2v-5.6M537.4 1093.2v-3.8M564.5 1093.2v-3.8M591.5 1093.2v-3.8M618.5 1093.2v-5.6M645.5 1093.2v-3.8M672.5 1093.2v-3.8M699.6 1093.2v-3.8M726.6 1093.2v-5.6M753.6 1093.2v-3.8M780.7 1093.2v-3.8M807.7 1093.2v-3.8M834.7 1093.2v-5.6M861.7 1093.2v-3.8M888.8 1093.2v-3.8M915.8 1093.2v-3.8M942.8 1093.2v-5.6M969.8 1093.2v-3.8M996.9 1093.2v-3.8M186.1 829.9v7.5M240.2 829.9v4M294.2 829.9v4M348.2 829.9v4M402.3 829.9v4M456.4 829.9v7.5M510.4 829.9v4M564.5 829.9v4M618.5 829.9v4M672.5 829.9v4M726.6 829.9v7.5M780.7 829.9v4M834.7 829.9v4M888.8 829.9v4M942.8 829.9v4M996.9 829.9v7.5" stroke="#6c6c6c" stroke-width="1.3" fill="none"/>
<rect x="168.9" y="829.9" width="845.5" height="263.3" fill="none" stroke="#6c6c6c" stroke-width="1.6"/>
<g transform="scale(1.045 1)" fill="none" stroke-linejoin="round">
<path d="M174.7 849.0L176.2 849.1L177.6 849.3L179.0 849.4L180.5 850.5L181.9 852.8L183.3 856.3L184.8 860.8L186.2 866.2L187.7 872.5L189.1 879.4L190.5 886.9L192.0 894.9L193.4 903.2L194.8 911.8L196.3 920.6L197.7 929.4L199.1 938.1L200.6 946.7L202.0 955.0L203.4 962.9L204.9 970.3L206.3 977.4L207.8 984.5L209.2 991.5L210.6 998.4L212.1 1005.1L213.5 1011.7L214.9 1017.9L216.4 1023.9L217.8 1029.5L219.2 1034.7L220.7 1039.4L222.1 1043.7L223.5 1047.3L225.0 1050.4L226.4 1052.9L227.8 1054.6L229.3 1055.6L230.7 1055.8L232.2 1055.2L233.6 1054.0L235.0 1052.0L236.5 1049.5L237.9 1046.4L239.3 1042.8L240.8 1038.7L242.2 1034.2L243.6 1029.3L245.1 1024.0L246.5 1018.4L247.9 1012.5L249.4 1006.4L250.8 1000.1L252.2 993.6L253.7 987.1L255.1 980.5L256.6 973.9L258.0 967.3L259.4 960.9L260.9 954.8L262.3 948.8L263.7 943.2L265.2 937.8L266.6 932.8L268.0 928.0L269.5 923.7L270.9 919.7L272.3 916.1L273.8 913.0L275.2 910.3L276.7 908.0L278.1 906.3L279.5 905.0L281.0 904.4L282.4 904.2L283.8 904.7L285.3 905.8L286.7 907.4L288.1 909.6L289.6 912.2L291.0 915.3L292.4 918.8L293.9 922.7L295.3 926.9L296.7 931.5L298.2 936.3L299.6 941.3L301.1 946.5L302.5 951.9L303.9 957.4L305.4 962.9L306.8 968.5L308.2 974.2L309.7 979.6L311.1 984.9L312.5 989.9L314.0 994.7L315.4 999.2L316.8 1003.4L318.3 1007.3L319.7 1010.8L321.1 1013.8L322.6 1016.5L324.0 1018.7L325.5 1020.3L326.9 1021.5L328.3 1022.1L329.8 1022.2L331.2 1021.8L332.6 1021.1L334.1 1020.0L335.5 1018.6L336.9 1016.9L338.4 1015.0L339.8 1012.8L341.2 1010.4L342.7 1007.8L344.1 1005.0L345.6 1002.1L347.0 999.0L348.4 995.8L349.9 992.5L351.3 989.2L352.7 985.8L354.2 982.4L355.6 979.0L357.0 975.6L358.5 972.3L359.9 969.1L361.3 966.0L362.8 963.0L364.2 960.2L365.6 957.5L367.1 955.0L368.5 952.6L370.0 950.4L371.4 948.3L372.8 946.4L374.3 944.6L375.7 943.0L377.1 941.5L378.6 940.2L380.0 939.0L381.4 938.1L382.9 937.2L384.3 936.6L385.7 936.1L387.2 935.8L388.6 935.6L390.0 935.7L391.5 936.0L392.9 936.8L394.4 937.8L395.8 939.1L397.2 940.7L398.7 942.5L400.1 944.6L401.5 947.0L403.0 949.5L404.4 952.2L405.8 955.1L407.3 958.2L408.7 961.4L410.1 964.8L411.6 968.2L413.0 971.8L414.4 975.3L415.9 978.8L417.3 982.3L418.8 985.6L420.2 988.9L421.6 992.0L423.1 994.8L424.5 997.5L425.9 1000.0L427.4 1002.1L428.8 1004.0L430.2 1005.5L431.7 1006.7L433.1 1007.4L434.5 1007.8L436.0 1007.6L437.4 1006.9L438.9 1005.6L440.3 1003.9L441.7 1001.7L443.2 999.2L444.6 996.4L446.0 993.2L447.5 989.9L448.9 986.4L450.3 982.8L451.8 979.2L453.2 975.6L454.6 972.0L456.1 968.5L457.5 965.4L458.9 962.5L460.4 960.0L461.8 957.7L463.3 955.8L464.7 954.2L466.1 953.0L467.6 952.1L469.0 951.5L470.4 951.3L471.9 951.4L473.3 951.8L474.7 952.4L476.2 953.1L477.6 954.0L479.0 955.1L480.5 956.2L481.9 957.3L483.3 958.6L484.8 959.7L486.2 960.9L487.7 962.0L489.1 963.0L490.5 963.9L492.0 964.6L493.4 965.1L494.8 965.4L496.3 965.4L497.7 965.3L499.1 965.0L500.6 964.7L502.0 964.3L503.4 963.9L504.9 963.4L506.3 962.9L507.8 962.4L509.2 961.9L510.6 961.4L512.1 961.0L513.5 960.7L514.9 960.5L516.4 960.4L517.8 960.5L519.2 960.7L520.7 961.2L522.1 962.0L523.5 963.1L525.0 964.5L526.4 966.2L527.8 968.2L529.3 970.6L530.7 973.3L532.2 976.2L533.6 979.1L535.0 982.0L536.5 984.9L537.9 987.7L539.3 990.4L540.8 992.9L542.2 995.1L543.6 997.0L545.1 998.6L546.5 999.7L547.9 1000.4L549.4 1000.5L550.8 1000.0L552.2 998.8L553.7 997.1L555.1 994.9L556.6 992.2L558.0 989.1L559.4 985.7L560.9 982.1L562.3 978.2L563.7 974.1L565.2 970.0L566.6 965.9L568.0 961.9L569.5 958.1L570.9 954.5L572.3 951.1L573.8 948.1L575.2 945.4L576.7 943.0L578.1 941.1L579.5 939.7L581.0 938.8L582.4 938.4L583.8 938.7L585.3 939.7L586.7 941.4L588.1 943.6L589.6 946.4L591.0 949.5L592.4 953.0L593.9 956.8L595.3 960.8L596.7 964.8L598.2 968.9L599.6 972.9L601.1 976.7L602.5 980.2L603.9 983.4L605.4 986.2L606.8 988.6L608.2 990.6L609.7 992.2L611.1 993.3L612.5 993.9L614.0 993.9L615.4 993.1L616.8 991.5L618.3 989.3L619.7 986.5L621.1 983.2L622.6 979.7L624.0 975.9L625.5 972.1L626.9 968.3L628.3 964.7L629.8 961.5L631.2 958.5L632.6 955.9L634.1 953.7L635.5 952.0L636.9 950.8L638.4 950.1L639.8 949.9L641.2 950.3L642.7 951.3L644.1 952.7L645.6 954.7L647.0 957.1L648.4 960.0L649.9 963.3L651.3 967.0L652.7 971.1L654.2 975.4L655.6 979.9L657.0 984.2L658.5 988.4L659.9 992.4L661.3 995.9L662.8 999.0L664.2 1001.4L665.6 1003.1L667.1 1003.9L668.5 1003.8L670.0 1002.8L671.4 1001.0L672.8 998.4L674.3 995.2L675.7 991.3L677.1 987.0L678.6 982.2L680.0 977.0L681.4 971.5L682.9 966.0L684.3 960.4L685.7 955.1L687.2 949.9L688.6 945.1L690.0 940.7L691.5 936.7L692.9 933.2L694.4 930.4L695.8 928.3L697.2 926.9L698.7 926.4L700.1 926.7L701.5 927.8L703.0 929.7L704.4 932.2L705.8 935.4L707.3 939.3L708.7 943.8L710.1 948.9L711.6 954.5L713.0 960.8L714.4 967.5L715.9 974.7L717.3 982.1L718.8 989.4L720.2 996.5L721.6 1003.1L723.1 1009.0L724.5 1013.9L725.9 1017.7L727.4 1020.0L728.8 1020.8L730.2 1020.0L731.7 1017.7L733.1 1014.3L734.5 1009.8L736.0 1004.4L737.4 998.3L738.9 991.5L740.3 984.4L741.7 976.9L743.2 969.3L744.6 961.9L746.0 954.8L747.5 948.1L748.9 942.0L750.3 936.5L751.8 931.7L753.2 927.7L754.6 924.5L756.1 922.3L757.5 921.2L758.9 921.1L760.4 922.4L761.8 924.7L763.3 928.2L764.7 932.6L766.1 937.9L767.6 944.0L769.0 950.8L770.4 958.1L771.9 965.9L773.3 974.1L774.7 982.3L776.2 990.3L777.6 998.0L779.0 1005.3L780.5 1011.9L781.9 1017.7L783.3 1022.6L784.8 1026.4L786.2 1029.1L787.7 1030.3L789.1 1030.0L790.5 1027.8L792.0 1023.9L793.4 1018.6L794.8 1012.0L796.3 1004.3L797.7 995.8L799.1 986.5L800.6 976.8L802.0 966.8L803.4 956.9L804.9 947.4L806.3 938.4L807.8 930.1L809.2 922.4L810.6 915.7L812.1 909.9L813.5 905.4L814.9 902.0L816.4 900.1L817.8 899.8L819.2 901.3L820.7 904.7L822.1 909.8L823.5 916.4L825.0 924.3L826.4 933.4L827.8 943.5L829.3 954.4L830.7 966.0L832.2 978.0L833.6 989.9L835.0 1001.4L836.5 1012.3L837.9 1022.5L839.3 1031.7L840.8 1039.7L842.2 1046.4L843.6 1051.5L845.1 1054.8L846.5 1056.2L847.9 1055.2L849.4 1051.9L850.8 1046.3L852.2 1038.9L853.7 1029.7L855.1 1019.2L856.6 1007.5L858.0 994.9L859.4 981.7L860.9 968.1L862.3 954.6L863.7 941.6L865.2 929.3L866.6 917.8L868.0 907.3L869.5 898.0L870.9 890.0L872.3 883.6L873.8 878.8L875.2 875.8L876.7 874.9L878.1 876.2L879.5 879.6L881.0 885.1L882.4 892.3L883.8 901.3L885.3 911.9L886.7 923.8L888.1 937.0L889.6 951.3L891.0 966.6L892.4 982.5L893.9 998.3L895.3 1013.8L896.7 1028.5L898.2 1042.1L899.6 1054.2L901.1 1064.5L902.5 1072.6L903.9 1078.1L905.4 1080.8L906.8 1080.3L908.2 1076.9L909.7 1070.7L911.1 1062.1L912.5 1051.4L914.0 1038.8L915.4 1024.5L916.8 1008.8L918.3 992.0L919.7 974.4L921.1 956.4L922.6 938.7L924.0 921.6L925.5 905.5L926.9 890.6L928.3 877.2L929.8 865.7L931.2 856.2L932.6 849.1L934.1 844.8L935.5 843.4L936.9 845.3L938.4 850.3L939.8 858.1L941.2 868.6L942.7 881.4L944.1 896.2L945.6 912.8L947.0 931.0L948.4 950.4L949.9 970.8L951.3 991.9L952.7 1013.6L954.2 1036.0L954.3 1037.5" stroke="#0000ff" stroke-width="3.1"/>
<path d="M174.7 849.0L176.2 849.1L177.6 849.3L179.0 849.4L180.5 850.5L181.9 852.8L183.3 856.3L184.8 860.8L186.2 866.2L187.7 872.5L189.1 879.4L190.5 886.9L192.0 894.9L193.4 903.2L194.8 911.8L196.3 920.6L197.7 929.4L199.1 938.1L200.6 946.7L202.0 955.0L203.4 962.9L204.9 970.3L206.3 977.4L207.8 984.5L209.2 991.5L210.6 998.4L212.1 1005.1L213.5 1011.7L214.9 1017.9L216.4 1023.9L217.8 1029.5L219.2 1034.7L220.7 1039.4L222.1 1043.7L223.5 1047.3L225.0 1050.4L226.4 1052.9L227.8 1054.6L229.3 1055.6L230.7 1055.8L232.2 1055.2L233.6 1054.0L235.0 1052.0L236.5 1049.5L237.9 1046.4L239.3 1042.8L240.8 1038.7L242.2 1034.2L243.6 1029.3L245.1 1024.0L246.5 1018.4L247.9 1012.5L249.4 1006.4L250.8 1000.1L252.2 993.6L253.7 987.1L255.1 980.5L256.6 973.9L258.0 967.3L259.4 960.9L260.9 954.8L262.3 948.8L263.7 943.2L265.2 937.8L266.6 932.8L268.0 928.0L269.5 923.7L270.9 919.7L272.3 916.1L273.8 913.0L275.2 910.3L276.7 908.0L278.1 906.3L279.5 905.0L281.0 904.4L282.4 904.2L283.8 904.7L285.3 905.8L286.7 907.4L288.1 909.6L289.6 912.2L291.0 915.3L292.4 918.8L293.9 922.7L295.3 926.9L296.7 931.5L298.2 936.3L299.6 941.3L301.1 946.5L302.5 951.9L303.9 957.4L305.4 962.9L306.8 968.5L308.2 974.2L309.7 979.6L311.1 984.9L312.5 989.9L314.0 994.7L315.4 999.2L316.8 1003.4L318.3 1007.3L319.7 1010.8L321.1 1013.8L322.6 1016.5L324.0 1018.7L325.5 1020.3L326.9 1021.5L328.3 1022.1L329.8 1022.2L331.2 1021.8L332.6 1021.1L334.1 1020.0L335.5 1018.6L336.9 1016.9L338.4 1015.0L339.8 1012.8L341.2 1010.4L342.7 1007.8L344.1 1005.0L345.6 1002.1L347.0 999.0L348.4 995.8L349.9 992.5L351.3 989.2L352.7 985.8L354.2 982.4L355.6 979.0L357.0 975.6L358.5 972.3L359.9 969.1L361.3 966.0L362.8 963.0L364.2 960.2L365.6 957.5L367.1 955.0L368.5 952.6L370.0 950.4L371.4 948.3L372.8 946.4L374.3 944.6L375.7 943.0L377.1 941.5L378.6 940.2L380.0 939.0L381.4 938.1L382.9 937.2L384.3 936.6L385.7 936.1L387.2 935.8L388.6 935.6L390.0 935.7L391.5 936.0L392.9 936.8L394.4 937.8L395.8 939.1L397.2 940.7L398.7 942.5L400.1 944.6L401.5 947.0L403.0 949.5L404.4 952.2L405.8 955.1L407.3 958.2L408.7 961.4L410.1 964.8L411.6 968.2L413.0 971.8L414.4 975.3L415.9 978.8L417.3 982.3L418.8 985.6L420.2 988.9L421.6 992.0L423.1 994.8L424.5 997.5L425.9 1000.0L427.4 1002.1L428.8 1004.0L430.2 1005.5L431.7 1006.7L433.1 1007.4L434.5 1007.8L436.0 1007.6L437.4 1006.9L438.9 1005.6L440.3 1003.9L441.7 1001.7L443.2 999.2L444.6 996.4L446.0 993.2L447.5 989.9L448.9 986.4L450.3 982.8L451.8 979.2L453.2 975.6L454.6 972.0L456.1 968.5L457.5 965.4L458.9 962.5L460.4 960.0L461.8 957.7L463.3 955.8L464.7 954.2L466.1 953.0L467.6 952.1L469.0 951.5L470.4 951.3L471.9 951.4L473.3 951.8L474.7 952.4L476.2 953.1L477.6 954.0L479.0 955.1L480.5 956.2L481.9 957.3L483.3 958.6L484.8 959.7L486.2 960.9L487.7 962.0L489.1 963.0L490.5 963.9L492.0 964.6L493.4 965.1L494.8 965.4L496.3 965.4L497.7 965.3L499.1 965.0L500.6 964.7L502.0 964.3L503.4 963.9L504.9 963.4L506.3 962.9L507.8 962.4L509.2 961.9L510.6 961.4L512.1 961.0L513.5 960.7L514.9 960.5L516.4 960.4L517.8 960.5L519.2 960.7L520.7 961.2L522.1 962.0L523.5 963.1L525.0 964.5L526.4 966.2L527.8 968.2L529.3 970.6L530.7 973.3L532.2 976.2L533.6 979.1L535.0 982.0L536.5 984.9L537.9 987.7L539.3 990.4L540.8 992.9L542.2 995.1L543.6 997.0L545.1 998.6L546.5 999.7L547.9 1000.4L549.4 1000.5L550.8 1000.0L552.2 998.8L553.7 997.1L555.1 994.9L556.6 992.2L558.0 989.1L559.4 985.7L560.9 982.1L562.3 978.2L563.7 974.1L565.2 970.0L566.6 965.9L568.0 961.9L569.5 958.1L570.9 954.5L572.3 951.1L573.8 948.1L575.2 945.4L576.7 943.0L578.1 941.1L579.5 939.7L581.0 938.8L582.4 938.4L583.8 938.7L585.3 939.7L586.7 941.4L588.1 943.6L589.6 946.4L591.0 949.5L592.4 953.0L593.9 956.8L595.3 960.8L596.7 964.8L598.2 968.9L599.6 972.9L601.1 976.7L602.5 980.2L603.9 983.4L605.4 986.2L606.8 988.6L608.2 990.6L609.7 992.2L611.1 993.3L612.5 993.9L614.0 993.9L615.4 993.1L616.8 991.5L618.3 989.3L619.7 986.5L621.1 983.2L622.6 979.7L624.0 975.9L625.5 972.1L626.9 968.3L628.3 964.7L629.8 961.5L631.2 958.5L632.6 955.9L634.1 953.7L635.5 952.0L636.9 950.8L638.4 950.1L639.8 949.9L641.2 950.3L642.7 951.3L644.1 952.7L645.6 954.7L647.0 957.1L648.4 960.0L649.9 963.3L651.3 967.0L652.7 971.1L654.2 975.4L655.6 979.9L657.0 984.2L658.5 988.4L659.9 992.4L661.3 995.9L662.8 999.0L664.2 1001.4L665.6 1003.1L667.1 1003.9L668.5 1003.8L670.0 1002.8L671.4 1001.0L672.8 998.4L674.3 995.2L675.7 991.3L677.1 987.0L678.6 982.2L680.0 977.0L681.4 971.5L682.9 966.0L684.3 960.4L685.7 955.1L687.2 949.9L688.6 945.1L690.0 940.7L691.5 936.7L692.9 933.2L694.4 930.4L695.8 928.3L697.2 926.9L698.7 926.4L700.1 926.7L701.5 927.8L703.0 929.7L704.4 932.2L705.8 935.4L707.3 939.3L708.7 943.8L710.1 948.9L711.6 954.5L713.0 960.8L714.4 967.5L715.9 974.7L717.3 982.1L718.8 989.4L720.2 996.5L721.6 1003.1L723.1 1009.0L724.5 1013.9L725.9 1017.7L727.4 1020.0L728.8 1020.8L730.2 1020.0L731.7 1017.7L733.1 1014.3L734.5 1009.8L736.0 1004.4L737.4 998.3L738.9 991.5L740.3 984.4L741.7 976.9L743.2 969.3L744.6 961.9L746.0 954.8L747.5 948.1L748.9 942.0L750.3 936.5L751.8 931.7L753.2 927.7L754.6 924.5L756.1 922.3L757.5 921.2L758.9 921.1L760.4 922.4L761.8 924.7L763.3 928.2L764.7 932.6L766.1 937.9L767.6 944.0L769.0 950.8L770.4 958.1L771.9 965.9L773.3 974.1L774.7 982.3L776.2 990.3L777.6 998.0L779.0 1005.3L780.5 1011.9L781.9 1017.7L783.3 1022.6L784.8 1026.4L786.2 1029.1L787.7 1030.3L789.1 1030.0L790.5 1027.8L792.0 1023.9L793.4 1018.6L794.8 1012.0L796.3 1004.3L797.7 995.8L799.1 986.5L800.6 976.8L802.0 966.8L803.4 956.9L804.9 947.4L806.3 938.4L807.8 930.1L809.2 922.4L810.6 915.7L812.1 909.9L813.5 905.4L814.9 902.0L816.4 900.1L817.8 899.8L819.2 901.3L820.7 904.7L822.1 909.8L823.5 916.4L825.0 924.3L826.4 933.4L827.8 943.5L829.3 954.4L830.7 966.0L832.2 978.0L833.6 989.9L835.0 1001.4L836.5 1012.3L837.9 1022.5L839.3 1031.7L840.8 1039.7L842.2 1046.4L843.6 1051.5L845.1 1054.8L846.5 1056.2L847.9 1055.2L849.4 1051.9L850.8 1046.3L852.2 1038.9L853.7 1029.7L855.1 1019.2L856.6 1007.5L858.0 994.9L859.4 981.7L860.9 968.1L862.3 954.6L863.7 941.6L865.2 929.3L866.6 917.8L868.0 907.3L869.5 898.0L870.9 890.0L872.3 883.6L873.8 878.8L875.2 875.8L876.7 874.9L878.1 876.2L879.5 879.6L881.0 885.1L882.4 892.3L883.8 901.3L885.3 911.9L886.7 923.8L888.1 937.0L889.6 951.3L891.0 966.6L892.4 982.5L893.9 998.3L895.3 1013.8L896.7 1028.5L898.2 1042.1L899.6 1054.2L901.1 1064.5L902.5 1072.6L903.9 1078.1L905.4 1080.8L906.8 1080.3L908.2 1076.9L909.7 1070.7L911.1 1062.1L912.5 1051.4L914.0 1038.8L915.4 1024.5L916.8 1008.8L918.3 992.0L919.7 974.4L921.1 956.4L922.6 938.7L924.0 921.6L925.5 905.5L926.9 890.6L928.3 877.2L929.8 865.7L931.2 856.2L932.6 849.1L934.1 844.8L935.5 843.4L936.9 845.3L938.4 850.3L939.8 858.1L941.2 868.6L942.7 881.4L944.1 896.2L945.6 912.8L947.0 931.0L948.4 950.4L949.9 970.8L951.3 991.9L952.7 1013.6L954.2 1036.0L954.3 1037.5" stroke="#ff0000" stroke-width="6.8" stroke-dasharray="16.3 15.6" stroke-dashoffset="-3.83"/>
<path d="M174.7 849.0L178.9 849.3" stroke="#ff0000" stroke-width="6.8"/>
</g>
<line x1="168.9" y1="970.8" x2="1014.4" y2="970.8" stroke="#757575" stroke-width="1.5"/>
</g>
<g>
<path d="M149.2 1480.4h4.6M1006 1480.4h-5.4M149.2 1470.6h4.6M1006 1470.6h-5.4M149.2 1460.8h7.2M1006 1460.8h-8.4M149.2 1451.0h4.6M1006 1451.0h-5.4M149.2 1441.2h4.6M1006 1441.2h-5.4M149.2 1431.4h4.6M1006 1431.4h-5.4M149.2 1421.6h4.6M1006 1421.6h-5.4M149.2 1411.8h7.2M1006 1411.8h-8.4M149.2 1401.9h4.6M1006 1401.9h-5.4M149.2 1392.1h4.6M1006 1392.1h-5.4M149.2 1382.3h4.6M1006 1382.3h-5.4M149.2 1372.5h4.6M1006 1372.5h-5.4M149.2 1362.7h7.2M1006 1362.7h-8.4M149.2 1352.9h4.6M1006 1352.9h-5.4M149.2 1343.1h4.6M1006 1343.1h-5.4M149.2 1333.3h4.6M1006 1333.3h-5.4M149.2 1323.5h4.6M1006 1323.5h-5.4M149.2 1313.7h7.2M1006 1313.7h-8.4M149.2 1303.8h4.6M1006 1303.8h-5.4M149.2 1294.0h4.6M1006 1294.0h-5.4M149.2 1284.2h4.6M1006 1284.2h-5.4M149.2 1274.4h4.6M1006 1274.4h-5.4M149.2 1264.6h7.2M1006 1264.6h-8.4M149.2 1254.8h4.6M1006 1254.8h-5.4M149.2 1245.0h4.6M1006 1245.0h-5.4M149.2 1235.2h4.6M1006 1235.2h-5.4M149.2 1225.4h4.6M1006 1225.4h-5.4M166.0 1488.4v-5.6M193.4 1488.4v-3.8M220.8 1488.4v-3.8M248.3 1488.4v-3.8M275.7 1488.4v-5.6M303.1 1488.4v-3.8M330.5 1488.4v-3.8M357.9 1488.4v-3.8M385.4 1488.4v-5.6M412.8 1488.4v-3.8M440.2 1488.4v-3.8M467.6 1488.4v-3.8M495.0 1488.4v-5.6M522.5 1488.4v-3.8M549.9 1488.4v-3.8M577.3 1488.4v-3.8M604.7 1488.4v-5.6M632.1 1488.4v-3.8M659.6 1488.4v-3.8M687.0 1488.4v-3.8M714.4 1488.4v-5.6M741.8 1488.4v-3.8M769.2 1488.4v-3.8M796.7 1488.4v-3.8M824.1 1488.4v-5.6M851.5 1488.4v-3.8M878.9 1488.4v-3.8M906.3 1488.4v-3.8M933.8 1488.4v-5.6M961.2 1488.4v-3.8M988.6 1488.4v-3.8M166.0 1220.4v7.5M220.8 1220.4v4M275.7 1220.4v4M330.5 1220.4v4M385.4 1220.4v4M440.2 1220.4v7.5M495.0 1220.4v4M549.9 1220.4v4M604.7 1220.4v4M659.6 1220.4v4M714.4 1220.4v7.5M769.2 1220.4v4M824.1 1220.4v4M878.9 1220.4v4M933.8 1220.4v4M988.6 1220.4v7.5" stroke="#6c6c6c" stroke-width="1.3" fill="none"/>
<rect x="149.2" y="1220.4" width="856.8" height="268.0" fill="none" stroke="#6c6c6c" stroke-width="1.6"/>
<g transform="scale(1.045 1)" fill="none" stroke-linejoin="round">
<path d="M157.4 1357.7L158.9 1357.8L160.3 1357.9L161.7 1358.1L163.2 1358.4L164.6 1358.9L166.0 1359.4L167.5 1360.1L168.9 1360.8L170.3 1361.5L171.8 1362.3L173.2 1363.0L174.6 1363.7L176.1 1364.4L177.5 1365.2L178.9 1365.9L180.4 1366.6L181.8 1367.2L183.3 1367.7L184.7 1368.1L186.1 1368.4L187.6 1368.5L189.0 1368.5L190.4 1368.3L191.9 1368.1L193.3 1367.7L194.7 1367.3L196.2 1366.8L197.6 1366.2L199.0 1365.5L200.5 1364.9L201.9 1364.2L203.3 1363.5L204.8 1362.8L206.2 1362.1L207.7 1361.5L209.1 1360.9L210.5 1360.4L212.0 1359.9L213.4 1359.6L214.8 1359.3L216.3 1359.1L217.7 1358.9L219.1 1358.9L220.6 1359.0L222.0 1359.2L223.4 1359.6L224.9 1360.0L226.3 1360.5L227.8 1361.1L229.2 1361.8L230.6 1362.4L232.1 1363.1L233.5 1363.7L234.9 1364.3L236.4 1364.9L237.8 1365.4L239.2 1365.8L240.7 1366.0L242.1 1366.2L243.5 1366.3L245.0 1366.3L246.4 1366.1L247.8 1365.9L249.3 1365.6L250.7 1365.2L252.2 1364.8L253.6 1364.3L255.0 1363.7L256.5 1363.1L257.9 1362.5L259.3 1361.8L260.8 1361.2L262.2 1360.6L263.6 1360.0L265.1 1359.5L266.5 1359.0L267.9 1358.7L269.4 1358.4L270.8 1358.2L272.2 1358.2L273.7 1358.3L275.1 1358.5L276.6 1358.8L278.0 1359.3L279.4 1359.8L280.9 1360.4L282.3 1361.1L283.7 1361.9L285.2 1362.8L286.6 1363.7L288.0 1364.5L289.5 1365.4L290.9 1366.3L292.3 1367.1L293.8 1367.8L295.2 1368.4L296.7 1368.9L298.1 1369.3L299.5 1369.5L301.0 1369.5L302.4 1369.3L303.8 1369.0L305.3 1368.5L306.7 1367.8L308.1 1367.1L309.6 1366.2L311.0 1365.3L312.4 1364.4L313.9 1363.4L315.3 1362.5L316.7 1361.6L318.2 1360.8L319.6 1360.0L321.1 1359.3L322.5 1358.7L323.9 1358.2L325.4 1357.7L326.8 1357.3L328.2 1357.0L329.7 1356.8L331.1 1356.6L332.5 1356.6L334.0 1356.7L335.4 1357.1L336.8 1357.5L338.3 1358.2L339.7 1358.9L341.1 1359.8L342.6 1360.8L344.0 1361.8L345.5 1362.9L346.9 1364.0L348.3 1365.1L349.8 1366.2L351.2 1367.2L352.6 1368.1L354.1 1369.0L355.5 1369.7L356.9 1370.3L358.4 1370.7L359.8 1371.0L361.2 1371.1L362.7 1370.9L364.1 1370.5L365.6 1369.8L367.0 1368.9L368.4 1367.9L369.9 1366.7L371.3 1365.5L372.7 1364.2L374.2 1362.9L375.6 1361.7L377.0 1360.6L378.5 1359.6L379.9 1358.7L381.3 1357.8L382.8 1357.1L384.2 1356.5L385.6 1356.0L387.1 1355.5L388.5 1355.2L390.0 1355.1L391.4 1355.0L392.8 1355.1L394.3 1355.5L395.7 1356.2L397.1 1357.0L398.6 1358.0L400.0 1359.2L401.4 1360.5L402.9 1361.8L404.3 1363.3L405.7 1364.7L407.2 1366.1L408.6 1367.4L410.0 1368.7L411.5 1369.8L412.9 1370.9L414.4 1371.8L415.8 1372.5L417.2 1373.1L418.7 1373.5L420.1 1373.6L421.5 1373.5L423.0 1373.1L424.4 1372.4L425.8 1371.5L427.3 1370.4L428.7 1369.1L430.1 1367.7L431.6 1366.1L433.0 1364.4L434.4 1362.7L435.9 1360.9L437.3 1359.2L438.8 1357.6L440.2 1356.0L441.6 1354.6L443.1 1353.2L444.5 1352.1L445.9 1351.1L447.4 1350.3L448.8 1349.8L450.2 1349.5L451.7 1349.4L453.1 1349.9L454.5 1350.7L456.0 1351.9L457.4 1353.4L458.9 1355.1L460.3 1357.1L461.7 1359.1L463.2 1361.3L464.6 1363.4L466.0 1365.5L467.5 1367.4L468.9 1369.2L470.3 1370.9L471.8 1372.4L473.2 1373.7L474.6 1374.8L476.1 1375.7L477.5 1376.3L478.9 1376.7L480.4 1376.8L481.8 1376.5L483.3 1376.0L484.7 1375.1L486.1 1373.9L487.6 1372.5L489.0 1370.9L490.4 1369.1L491.9 1367.2L493.3 1365.1L494.7 1363.0L496.2 1360.8L497.6 1358.7L499.0 1356.6L500.5 1354.7L501.9 1352.9L503.3 1351.3L504.8 1350.0L506.2 1348.9L507.7 1348.1L509.1 1347.7L510.5 1347.6L512.0 1347.9L513.4 1348.5L514.8 1349.4L516.3 1350.6L517.7 1352.0L519.1 1353.7L520.6 1355.7L522.0 1357.8L523.4 1360.2L524.9 1362.7L526.3 1365.3L527.8 1368.0L529.2 1370.6L530.6 1373.1L532.1 1375.4L533.5 1377.5L534.9 1379.3L536.4 1380.8L537.8 1381.9L539.2 1382.6L540.7 1382.7L542.1 1382.2L543.5 1381.2L545.0 1379.8L546.4 1377.9L547.8 1375.6L549.3 1373.1L550.7 1370.3L552.2 1367.4L553.6 1364.4L555.0 1361.3L556.5 1358.2L557.9 1355.4L559.3 1352.7L560.8 1350.1L562.2 1347.9L563.6 1345.9L565.1 1344.2L566.5 1342.8L567.9 1341.8L569.4 1341.2L570.8 1341.1L572.2 1341.5L573.7 1342.4L575.1 1343.7L576.6 1345.6L578.0 1347.8L579.4 1350.4L580.9 1353.4L582.3 1356.8L583.7 1360.4L585.2 1364.3L586.6 1368.3L588.0 1372.2L589.5 1376.0L590.9 1379.6L592.3 1382.8L593.8 1385.5L595.2 1387.7L596.7 1389.2L598.1 1389.9L599.5 1389.9L601.0 1389.1L602.4 1387.8L603.8 1386.0L605.3 1383.6L606.7 1380.9L608.1 1377.7L609.6 1374.2L611.0 1370.4L612.4 1366.4L613.9 1362.1L615.3 1357.8L616.7 1353.6L618.2 1349.6L619.6 1345.8L621.1 1342.4L622.5 1339.3L623.9 1336.8L625.4 1334.8L626.8 1333.5L628.2 1332.9L629.7 1333.1L631.1 1333.9L632.5 1335.2L634.0 1337.0L635.4 1339.3L636.8 1342.1L638.3 1345.3L639.7 1348.8L641.1 1352.6L642.6 1356.8L644.0 1361.2L645.5 1365.8L646.9 1370.4L648.3 1374.9L649.8 1379.2L651.2 1383.3L652.6 1387.0L654.1 1390.3L655.5 1393.0L656.9 1395.2L658.4 1396.6L659.8 1397.3L661.2 1397.1L662.7 1396.1L664.1 1394.3L665.6 1391.9L667.0 1388.8L668.4 1385.1L669.9 1381.0L671.3 1376.4L672.7 1371.4L674.2 1366.0L675.6 1360.4L677.0 1354.8L678.5 1349.3L679.9 1344.1L681.3 1339.1L682.8 1334.7L684.2 1330.8L685.6 1327.6L687.1 1325.2L688.5 1323.7L690.0 1323.2L691.4 1323.7L692.8 1324.9L694.3 1326.8L695.7 1329.5L697.1 1332.7L698.6 1336.6L700.0 1341.0L701.4 1345.9L702.9 1351.2L704.3 1357.0L705.7 1363.1L707.2 1369.4L708.6 1375.7L710.0 1381.9L711.5 1387.7L712.9 1393.1L714.4 1398.0L715.8 1402.1L717.2 1405.5L718.7 1407.8L720.1 1409.1L721.5 1409.2L723.0 1408.0L724.4 1405.7L725.8 1402.4L727.3 1398.1L728.7 1393.1L730.1 1387.2L731.6 1380.8L733.0 1373.8L734.4 1366.3L735.9 1358.5L737.3 1350.8L738.8 1343.2L740.2 1336.1L741.6 1329.4L743.1 1323.5L744.5 1318.4L745.9 1314.2L747.4 1311.3L748.8 1309.7L750.2 1309.5L751.7 1310.8L753.1 1313.4L754.5 1317.2L756.0 1322.1L757.4 1327.9L758.9 1334.6L760.3 1341.9L761.7 1349.8L763.2 1358.1L764.6 1366.7L766.0 1375.3L767.5 1383.6L768.9 1391.5L770.3 1398.9L771.8 1405.6L773.2 1411.6L774.6 1416.6L776.1 1420.6L777.5 1423.4L778.9 1424.9L780.4 1424.9L781.8 1423.2L783.3 1419.9L784.7 1415.2L786.1 1409.2L787.6 1402.0L789.0 1393.9L790.4 1385.0L791.9 1375.5L793.3 1365.4L794.7 1355.2L796.2 1345.1L797.6 1335.4L799.0 1326.3L800.5 1317.9L801.9 1310.4L803.3 1303.9L804.8 1298.7L806.2 1294.9L807.7 1292.6L809.1 1292.0L810.5 1293.2L812.0 1296.0L813.4 1300.3L814.8 1305.9L816.3 1312.7L817.7 1320.6L819.1 1329.5L820.6 1339.1L822.0 1349.5L823.4 1360.5L824.9 1371.7L826.3 1382.8L827.8 1393.7L829.2 1404.0L830.6 1413.7L832.1 1422.5L833.5 1430.2L834.9 1436.7L836.4 1441.9L837.8 1445.4L839.2 1447.1L840.7 1446.8L842.1 1443.9L843.5 1438.6L845.0 1431.3L846.4 1422.3L847.8 1411.8L849.3 1400.1L850.7 1387.5L852.2 1374.3L853.6 1360.9L855.0 1347.7L856.5 1335.0L857.9 1323.0L859.3 1311.8L860.8 1301.5L862.2 1292.3L863.6 1284.3L865.1 1277.6L866.5 1272.4L867.9 1268.8L869.4 1266.9L870.8 1266.9L872.2 1269.2L873.7 1273.7L875.1 1280.3L876.6 1288.7L878.0 1298.8L879.4 1310.4L880.9 1323.3L882.3 1337.3L883.7 1352.3L885.2 1368.0L886.6 1383.8L888.0 1399.2L889.5 1414.0L890.9 1427.9L892.3 1440.6L893.8 1451.8L895.2 1461.1L896.7 1468.3L898.1 1473.1L899.5 1475.1L901.0 1474.2L902.4 1470.3L903.8 1463.6L905.3 1454.5L906.7 1443.3L908.1 1430.2L909.6 1415.6L911.0 1399.7L912.4 1382.7L913.9 1365.1L915.3 1347.2L916.7 1329.8L918.2 1313.1L919.6 1297.3L921.1 1282.7L922.5 1269.5L923.9 1257.9L925.4 1248.2L926.8 1240.7L928.2 1235.5L929.7 1232.9L931.1 1233.4L932.5 1237.7L934.0 1245.4L935.4 1256.3L936.8 1269.9L938.3 1285.8L939.7 1303.7L941.1 1323.3L942.6 1344.0L944.0 1365.6L945.5 1387.7L946.0 1396.6" stroke="#0000ff" stroke-width="3.2"/>
<path d="M157.4 1357.7L158.9 1357.8L160.3 1357.9L161.7 1358.1L163.2 1358.4L164.6 1358.9L166.0 1359.4L167.5 1360.1L168.9 1360.8L170.3 1361.5L171.8 1362.3L173.2 1363.0L174.6 1363.7L176.1 1364.4L177.5 1365.2L178.9 1365.9L180.4 1366.6L181.8 1367.2L183.3 1367.7L184.7 1368.1L186.1 1368.4L187.6 1368.5L189.0 1368.5L190.4 1368.3L191.9 1368.1L193.3 1367.7L194.7 1367.3L196.2 1366.8L197.6 1366.2L199.0 1365.5L200.5 1364.9L201.9 1364.2L203.3 1363.5L204.8 1362.8L206.2 1362.1L207.7 1361.5L209.1 1360.9L210.5 1360.4L212.0 1359.9L213.4 1359.6L214.8 1359.3L216.3 1359.1L217.7 1358.9L219.1 1358.9L220.6 1359.0L222.0 1359.2L223.4 1359.6L224.9 1360.0L226.3 1360.5L227.8 1361.1L229.2 1361.8L230.6 1362.4L232.1 1363.1L233.5 1363.7L234.9 1364.3L236.4 1364.9L237.8 1365.4L239.2 1365.8L240.7 1366.0L242.1 1366.2L243.5 1366.3L245.0 1366.3L246.4 1366.1L247.8 1365.9L249.3 1365.6L250.7 1365.2L252.2 1364.8L253.6 1364.3L255.0 1363.7L256.5 1363.1L257.9 1362.5L259.3 1361.8L260.8 1361.2L262.2 1360.6L263.6 1360.0L265.1 1359.5L266.5 1359.0L267.9 1358.7L269.4 1358.4L270.8 1358.2L272.2 1358.2L273.7 1358.3L275.1 1358.5L276.6 1358.8L278.0 1359.3L279.4 1359.8L280.9 1360.4L282.3 1361.1L283.7 1361.9L285.2 1362.8L286.6 1363.7L288.0 1364.5L289.5 1365.4L290.9 1366.3L292.3 1367.1L293.8 1367.8L295.2 1368.4L296.7 1368.9L298.1 1369.3L299.5 1369.5L301.0 1369.5L302.4 1369.3L303.8 1369.0L305.3 1368.5L306.7 1367.8L308.1 1367.1L309.6 1366.2L311.0 1365.3L312.4 1364.4L313.9 1363.4L315.3 1362.5L316.7 1361.6L318.2 1360.8L319.6 1360.0L321.1 1359.3L322.5 1358.7L323.9 1358.2L325.4 1357.7L326.8 1357.3L328.2 1357.0L329.7 1356.8L331.1 1356.6L332.5 1356.6L334.0 1356.7L335.4 1357.1L336.8 1357.5L338.3 1358.2L339.7 1358.9L341.1 1359.8L342.6 1360.8L344.0 1361.8L345.5 1362.9L346.9 1364.0L348.3 1365.1L349.8 1366.2L351.2 1367.2L352.6 1368.1L354.1 1369.0L355.5 1369.7L356.9 1370.3L358.4 1370.7L359.8 1371.0L361.2 1371.1L362.7 1370.9L364.1 1370.5L365.6 1369.8L367.0 1368.9L368.4 1367.9L369.9 1366.7L371.3 1365.5L372.7 1364.2L374.2 1362.9L375.6 1361.7L377.0 1360.6L378.5 1359.6L379.9 1358.7L381.3 1357.8L382.8 1357.1L384.2 1356.5L385.6 1356.0L387.1 1355.5L388.5 1355.2L390.0 1355.1L391.4 1355.0L392.8 1355.1L394.3 1355.5L395.7 1356.2L397.1 1357.0L398.6 1358.0L400.0 1359.2L401.4 1360.5L402.9 1361.8L404.3 1363.3L405.7 1364.7L407.2 1366.1L408.6 1367.4L410.0 1368.7L411.5 1369.8L412.9 1370.9L414.4 1371.8L415.8 1372.5L417.2 1373.1L418.7 1373.5L420.1 1373.6L421.5 1373.5L423.0 1373.1L424.4 1372.4L425.8 1371.5L427.3 1370.4L428.7 1369.1L430.1 1367.7L431.6 1366.1L433.0 1364.4L434.4 1362.7L435.9 1360.9L437.3 1359.2L438.8 1357.6L440.2 1356.0L441.6 1354.6L443.1 1353.2L444.5 1352.1L445.9 1351.1L447.4 1350.3L448.8 1349.8L450.2 1349.5L451.7 1349.4L453.1 1349.9L454.5 1350.7L456.0 1351.9L457.4 1353.4L458.9 1355.1L460.3 1357.1L461.7 1359.1L463.2 1361.3L464.6 1363.4L466.0 1365.5L467.5 1367.4L468.9 1369.2L470.3 1370.9L471.8 1372.4L473.2 1373.7L474.6 1374.8L476.1 1375.7L477.5 1376.3L478.9 1376.7L480.4 1376.8L481.8 1376.5L483.3 1376.0L484.7 1375.1L486.1 1373.9L487.6 1372.5L489.0 1370.9L490.4 1369.1L491.9 1367.2L493.3 1365.1L494.7 1363.0L496.2 1360.8L497.6 1358.7L499.0 1356.6L500.5 1354.7L501.9 1352.9L503.3 1351.3L504.8 1350.0L506.2 1348.9L507.7 1348.1L509.1 1347.7L510.5 1347.6L512.0 1347.9L513.4 1348.5L514.8 1349.4L516.3 1350.6L517.7 1352.0L519.1 1353.7L520.6 1355.7L522.0 1357.8L523.4 1360.2L524.9 1362.7L526.3 1365.3L527.8 1368.0L529.2 1370.6L530.6 1373.1L532.1 1375.4L533.5 1377.5L534.9 1379.3L536.4 1380.8L537.8 1381.9L539.2 1382.6L540.7 1382.7L542.1 1382.2L543.5 1381.2L545.0 1379.8L546.4 1377.9L547.8 1375.6L549.3 1373.1L550.7 1370.3L552.2 1367.4L553.6 1364.4L555.0 1361.3L556.5 1358.2L557.9 1355.4L559.3 1352.7L560.8 1350.1L562.2 1347.9L563.6 1345.9L565.1 1344.2L566.5 1342.8L567.9 1341.8L569.4 1341.2L570.8 1341.1L572.2 1341.5L573.7 1342.4L575.1 1343.7L576.6 1345.6L578.0 1347.8L579.4 1350.4L580.9 1353.4L582.3 1356.8L583.7 1360.4L585.2 1364.3L586.6 1368.3L588.0 1372.2L589.5 1376.0L590.9 1379.6L592.3 1382.8L593.8 1385.5L595.2 1387.7L596.7 1389.2L598.1 1389.9L599.5 1389.9L601.0 1389.1L602.4 1387.8L603.8 1386.0L605.3 1383.6L606.7 1380.9L608.1 1377.7L609.6 1374.2L611.0 1370.4L612.4 1366.4L613.9 1362.1L615.3 1357.8L616.7 1353.6L618.2 1349.6L619.6 1345.8L621.1 1342.4L622.5 1339.3L623.9 1336.8L625.4 1334.8L626.8 1333.5L628.2 1332.9L629.7 1333.1L631.1 1333.9L632.5 1335.2L634.0 1337.0L635.4 1339.3L636.8 1342.1L638.3 1345.3L639.7 1348.8L641.1 1352.6L642.6 1356.8L644.0 1361.2L645.5 1365.8L646.9 1370.4L648.3 1374.9L649.8 1379.2L651.2 1383.3L652.6 1387.0L654.1 1390.3L655.5 1393.0L656.9 1395.2L658.4 1396.6L659.8 1397.3L661.2 1397.1L662.7 1396.1L664.1 1394.3L665.6 1391.9L667.0 1388.8L668.4 1385.1L669.9 1381.0L671.3 1376.4L672.7 1371.4L674.2 1366.0L675.6 1360.4L677.0 1354.8L678.5 1349.3L679.9 1344.1L681.3 1339.1L682.8 1334.7L684.2 1330.8L685.6 1327.6L687.1 1325.2L688.5 1323.7L690.0 1323.2L691.4 1323.7L692.8 1324.9L694.3 1326.8L695.7 1329.5L697.1 1332.7L698.6 1336.6L700.0 1341.0L701.4 1345.9L702.9 1351.2L704.3 1357.0L705.7 1363.1L707.2 1369.4L708.6 1375.7L710.0 1381.9L711.5 1387.7L712.9 1393.1L714.4 1398.0L715.8 1402.1L717.2 1405.5L718.7 1407.8L720.1 1409.1L721.5 1409.2L723.0 1408.0L724.4 1405.7L725.8 1402.4L727.3 1398.1L728.7 1393.1L730.1 1387.2L731.6 1380.8L733.0 1373.8L734.4 1366.3L735.9 1358.5L737.3 1350.8L738.8 1343.2L740.2 1336.1L741.6 1329.4L743.1 1323.5L744.5 1318.4L745.9 1314.2L747.4 1311.3L748.8 1309.7L750.2 1309.5L751.7 1310.8L753.1 1313.4L754.5 1317.2L756.0 1322.1L757.4 1327.9L758.9 1334.6L760.3 1341.9L761.7 1349.8L763.2 1358.1L764.6 1366.7L766.0 1375.3L767.5 1383.6L768.9 1391.5L770.3 1398.9L771.8 1405.6L773.2 1411.6L774.6 1416.6L776.1 1420.6L777.5 1423.4L778.9 1424.9L780.4 1424.9L781.8 1423.2L783.3 1419.9L784.7 1415.2L786.1 1409.2L787.6 1402.0L789.0 1393.9L790.4 1385.0L791.9 1375.5L793.3 1365.4L794.7 1355.2L796.2 1345.1L797.6 1335.4L799.0 1326.3L800.5 1317.9L801.9 1310.4L803.3 1303.9L804.8 1298.7L806.2 1294.9L807.7 1292.6L809.1 1292.0L810.5 1293.2L812.0 1296.0L813.4 1300.3L814.8 1305.9L816.3 1312.7L817.7 1320.6L819.1 1329.5L820.6 1339.1L822.0 1349.5L823.4 1360.5L824.9 1371.7L826.3 1382.8L827.8 1393.7L829.2 1404.0L830.6 1413.7L832.1 1422.5L833.5 1430.2L834.9 1436.7L836.4 1441.9L837.8 1445.4L839.2 1447.1L840.7 1446.8L842.1 1443.9L843.5 1438.6L845.0 1431.3L846.4 1422.3L847.8 1411.8L849.3 1400.1L850.7 1387.5L852.2 1374.3L853.6 1360.9L855.0 1347.7L856.5 1335.0L857.9 1323.0L859.3 1311.8L860.8 1301.5L862.2 1292.3L863.6 1284.3L865.1 1277.6L866.5 1272.4L867.9 1268.8L869.4 1266.9L870.8 1266.9L872.2 1269.2L873.7 1273.7L875.1 1280.3L876.6 1288.7L878.0 1298.8L879.4 1310.4L880.9 1323.3L882.3 1337.3L883.7 1352.3L885.2 1368.0L886.6 1383.8L888.0 1399.2L889.5 1414.0L890.9 1427.9L892.3 1440.6L893.8 1451.8L895.2 1461.1L896.7 1468.3L898.1 1473.1L899.5 1475.1L901.0 1474.2L902.4 1470.3L903.8 1463.6L905.3 1454.5L906.7 1443.3L908.1 1430.2L909.6 1415.6L911.0 1399.7L912.4 1382.7L913.9 1365.1L915.3 1347.2L916.7 1329.8L918.2 1313.1L919.6 1297.3L921.1 1282.7L922.5 1269.5L923.9 1257.9L925.4 1248.2L926.8 1240.7L928.2 1235.5L929.7 1232.9L931.1 1233.4L932.5 1237.7L934.0 1245.4L935.4 1256.3L936.8 1269.9L938.3 1285.8L939.7 1303.7L941.1 1323.3L942.6 1344.0L944.0 1365.6L945.5 1387.7L946.0 1396.6" stroke="#ff0000" stroke-width="7.0" stroke-dasharray="16.54 15.83" stroke-dashoffset="-2.39"/>
<path d="M157.4 1357.7L160.1 1357.9" stroke="#ff0000" stroke-width="7.0"/>
</g>
<line x1="149.2" y1="1362.7" x2="1006" y2="1362.7" stroke="#757575" stroke-width="1.5"/>
</g>
<text class="sf" font-size="42.5" letter-spacing="1.3" transform="translate(95.07 68.53) scale(1.045 1)">1.0</text>
<text class="sf" font-size="42.5" letter-spacing="1.3" transform="translate(95.07 140.56) scale(1.045 1)">0.5</text>
<text class="sf" font-size="42.5" letter-spacing="1.3" transform="translate(95.07 212.60) scale(1.045 1)">0.0</text>
<text class="sf" font-size="42.5" transform="translate(62.31 284.78) scale(1.1846 1.0000)">−</text>
<text class="sf" font-size="42.5" letter-spacing="1.3" transform="translate(95.07 284.64) scale(1.045 1)">0.5</text>
<text class="sf" font-size="42.5" letter-spacing="1.2" transform="translate(147.69 350.70) scale(1.045 1)">0.0</text>
<text class="sf" font-size="42.5" letter-spacing="1.2" transform="translate(256.14 350.70) scale(1.045 1)">0.2</text>
<text class="sf" font-size="42.5" letter-spacing="1.2" transform="translate(363.54 350.70) scale(1.045 1)">0.4</text>
<text class="sf" font-size="42.5" letter-spacing="1.2" transform="translate(471.64 350.70) scale(1.045 1)">0.6</text>
<text class="sf" font-size="42.5" letter-spacing="1.2" transform="translate(580.09 350.70) scale(1.045 1)">0.8</text>
<text class="sf" font-size="42.5" letter-spacing="1.2" transform="translate(687.15 350.70) scale(1.045 1)">1.0</text>
<text class="sf" font-size="42.5" letter-spacing="1.2" transform="translate(795.59 350.70) scale(1.045 1)">1.2</text>
<text class="sf" font-size="42.5" letter-spacing="1.2" transform="translate(903.00 350.70) scale(1.045 1)">1.4</text>
<text class="sf" font-size="51" stroke="#000" stroke-width="0.25" transform="translate(492.38 410.62) scale(1.1500 0.9811)">Time </text>
<text class="sf" font-size="51" stroke="#000" stroke-width="0.7" transform="translate(632.83 415.13) scale(0.5856 1.1666)">[</text>
<text class="sf" font-size="51" stroke="#000" stroke-width="0.25" transform="translate(642.08 410.85) scale(1.1414 0.9373)">s</text>
<text class="sf" font-size="51" stroke="#000" stroke-width="0.7" transform="translate(665.07 415.13) scale(0.5856 1.1666)">]</text>
<text class="sc" font-size="32" stroke="#000" stroke-width="0.25" transform="translate(170.90 35.30) scale(0.9946 0.9872)">X </text>
<text class="sc" font-size="32" stroke="#000" stroke-width="0.15" transform="translate(200.31 35.12) scale(1.1976 0.9673)">10</text>
<text class="sc" font-size="24" transform="translate(243.28 20.80) scale(1.2108 1.0000)">−</text>
<text class="sc" font-size="24" stroke="#000" stroke-width="0.1" transform="translate(263.99 21.44) scale(1.2046 0.9469)">3</text>
<text class="sf" font-size="53" font-style="italic" stroke="#000" stroke-width="0.25" transform="translate(47.90 277.07) rotate(-90) scale(0.9459 0.9580)">κ</text>
<text class="sf" font-size="53" stroke="#000" stroke-width="0.25" transform="translate(48.12 244.04) rotate(-90) scale(0.8117 1.1114)">(</text>
<text class="sf" font-size="53" font-style="italic" stroke="#000" stroke-width="0.25" transform="translate(46.51 230.83) rotate(-90) scale(0.9862 1.0804)">t</text>
<text class="sf" font-size="53" stroke="#000" stroke-width="0.25" transform="translate(48.12 208.52) rotate(-90) scale(0.8595 1.1114)">) </text>
<text class="sf" font-size="53" stroke="#000" stroke-width="0.8" transform="translate(51.95 177.58) rotate(-90) scale(0.5072 1.2143)">[</text>
<text class="sf" font-size="53" stroke="#000" stroke-width="0.25" transform="translate(47.27 168.39) rotate(-90) scale(1.0726 1.0002)">rad</text>
<text class="sf" font-size="53" stroke="#000" stroke-width="0.8" transform="translate(51.95 93.99) rotate(-90) scale(0.5394 1.2143)">]</text>
<text class="sf" font-size="42.5" letter-spacing="1.3" transform="translate(95.07 460.00) scale(1.045 1)">1.5</text>
<text class="sf" font-size="42.5" letter-spacing="1.3" transform="translate(95.07 503.30) scale(1.045 1)">1.0</text>
<text class="sf" font-size="42.5" letter-spacing="1.3" transform="translate(95.07 546.60) scale(1.045 1)">0.5</text>
<text class="sf" font-size="42.5" letter-spacing="1.3" transform="translate(95.07 589.90) scale(1.045 1)">0.0</text>
<text class="sf" font-size="42.5" transform="translate(62.31 633.35) scale(1.1846 1.0000)">−</text>
<text class="sf" font-size="42.5" letter-spacing="1.3" transform="translate(95.07 633.20) scale(1.045 1)">0.5</text>
<text class="sf" font-size="42.5" transform="translate(62.31 676.65) scale(1.1846 1.0000)">−</text>
<text class="sf" font-size="42.5" letter-spacing="1.3" transform="translate(95.07 676.50) scale(1.045 1)">1.0</text>
<text class="sf" font-size="42.5" transform="translate(62.31 719.95) scale(1.1846 1.0000)">−</text>
<text class="sf" font-size="42.5" letter-spacing="1.3" transform="translate(95.07 719.80) scale(1.045 1)">1.5</text>
<text class="sf" font-size="42.5" letter-spacing="1.2" transform="translate(147.69 753.60) scale(1.045 1)">0.0</text>
<text class="sf" font-size="42.5" letter-spacing="1.2" transform="translate(256.14 753.60) scale(1.045 1)">0.2</text>
<text class="sf" font-size="42.5" letter-spacing="1.2" transform="translate(363.54 753.60) scale(1.045 1)">0.4</text>
<text class="sf" font-size="42.5" letter-spacing="1.2" transform="translate(471.64 753.60) scale(1.045 1)">0.6</text>
<text class="sf" font-size="42.5" letter-spacing="1.2" transform="translate(580.09 753.60) scale(1.045 1)">0.8</text>
<text class="sf" font-size="42.5" letter-spacing="1.2" transform="translate(687.15 753.60) scale(1.045 1)">1.0</text>
<text class="sf" font-size="42.5" letter-spacing="1.2" transform="translate(795.59 753.60) scale(1.045 1)">1.2</text>
<text class="sf" font-size="42.5" letter-spacing="1.2" transform="translate(903.00 753.60) scale(1.045 1)">1.4</text>
<text class="sf" font-size="51" stroke="#000" stroke-width="0.25" transform="translate(490.93 810.61) scale(1.2120 1.0341)">Time </text>
<text class="sf" font-size="51" stroke="#000" stroke-width="0.7" transform="translate(638.97 815.37) scale(0.6172 1.2296)">[</text>
<text class="sf" font-size="51" stroke="#000" stroke-width="0.25" transform="translate(648.72 810.86) scale(1.2030 0.9879)">s</text>
<text class="sf" font-size="51" stroke="#000" stroke-width="0.7" transform="translate(672.94 815.37) scale(0.6172 1.2296)">]</text>
<text class="sc" font-size="32" stroke="#000" stroke-width="0.25" transform="translate(167.10 434.50) scale(0.9946 0.9872)">X </text>
<text class="sc" font-size="32" stroke="#000" stroke-width="0.15" transform="translate(196.51 434.32) scale(1.1976 0.9673)">10</text>
<text class="sc" font-size="24" transform="translate(239.48 420.00) scale(1.2108 1.0000)">−</text>
<text class="sc" font-size="24" stroke="#000" stroke-width="0.1" transform="translate(260.19 420.64) scale(1.2046 0.9469)">3</text>
<text class="sf" font-size="53" font-style="italic" stroke="#000" stroke-width="0.25" transform="translate(44.05 697.03) rotate(-90) scale(1.0197 1.0212)">θ</text>
<text class="sf" font-size="53" stroke="#000" stroke-width="0.25" transform="translate(45.11 666.33) rotate(-90) scale(0.8050 1.1380)">(</text>
<text class="sf" font-size="53" font-style="italic" stroke="#000" stroke-width="0.25" transform="translate(43.58 652.09) rotate(-90) scale(1.0801 1.1154)">t</text>
<text class="sf" font-size="53" stroke="#000" stroke-width="0.25" transform="translate(45.11 630.22) rotate(-90) scale(0.8595 1.1380)">) </text>
<text class="sf" font-size="53" stroke="#000" stroke-width="0.8" transform="translate(49.03 599.27) rotate(-90) scale(0.5957 1.2433)">[</text>
<text class="sf" font-size="53" stroke="#000" stroke-width="0.25" transform="translate(43.96 588.10) rotate(-90) scale(1.0831 1.0185)">rad</text>
<text class="sf" font-size="53" stroke="#000" stroke-width="0.8" transform="translate(49.03 512.99) rotate(-90) scale(0.5394 1.2433)">]</text>
<text class="sf" font-size="42.5" letter-spacing="1.3" transform="translate(103.47 861.90) scale(1.045 1)">1.0</text>
<text class="sf" font-size="42.5" letter-spacing="1.3" transform="translate(103.47 922.80) scale(1.045 1)">0.5</text>
<text class="sf" font-size="42.5" letter-spacing="1.3" transform="translate(103.47 983.70) scale(1.045 1)">0.0</text>
<text class="sf" font-size="42.5" transform="translate(70.71 1044.75) scale(1.1846 1.0000)">−</text>
<text class="sf" font-size="42.5" letter-spacing="1.3" transform="translate(103.47 1044.60) scale(1.045 1)">0.5</text>
<text class="sf" font-size="42.5" transform="translate(70.71 1105.65) scale(1.1846 1.0000)">−</text>
<text class="sf" font-size="42.5" letter-spacing="1.3" transform="translate(103.47 1105.50) scale(1.045 1)">1.0</text>
<text class="sf" font-size="42.5" letter-spacing="1.2" transform="translate(155.79 1135.80) scale(1.045 1)">0.0</text>
<text class="sf" font-size="42.5" letter-spacing="1.2" transform="translate(264.24 1135.80) scale(1.045 1)">0.2</text>
<text class="sf" font-size="42.5" letter-spacing="1.2" transform="translate(371.64 1135.80) scale(1.045 1)">0.4</text>
<text class="sf" font-size="42.5" letter-spacing="1.2" transform="translate(479.74 1135.80) scale(1.045 1)">0.6</text>
<text class="sf" font-size="42.5" letter-spacing="1.2" transform="translate(588.19 1135.80) scale(1.045 1)">0.8</text>
<text class="sf" font-size="42.5" letter-spacing="1.2" transform="translate(695.25 1135.80) scale(1.045 1)">1.0</text>
<text class="sf" font-size="42.5" letter-spacing="1.2" transform="translate(803.69 1135.80) scale(1.045 1)">1.2</text>
<text class="sf" font-size="42.5" letter-spacing="1.2" transform="translate(911.10 1135.80) scale(1.045 1)">1.4</text>
<text class="sf" font-size="51" stroke="#000" stroke-width="0.25" transform="translate(494.04 1189.21) scale(1.2086 1.0311)">Time </text>
<text class="sf" font-size="51" stroke="#000" stroke-width="0.7" transform="translate(641.65 1193.95) scale(0.6155 1.2261)">[</text>
<text class="sf" font-size="51" stroke="#000" stroke-width="0.25" transform="translate(651.37 1189.46) scale(1.1996 0.9851)">s</text>
<text class="sf" font-size="51" stroke="#000" stroke-width="0.7" transform="translate(675.53 1193.95) scale(0.6155 1.2261)">]</text>
<text class="sc" font-size="32" stroke="#000" stroke-width="0.25" transform="translate(168.20 817.80) scale(0.9946 0.9872)">X </text>
<text class="sc" font-size="32" stroke="#000" stroke-width="0.15" transform="translate(197.61 817.62) scale(1.1976 0.9673)">10</text>
<text class="sc" font-size="24" transform="translate(240.58 803.30) scale(1.2108 1.0000)">−</text>
<text class="sc" font-size="24" stroke="#000" stroke-width="0.1" transform="translate(261.29 803.94) scale(1.2046 0.9469)">3</text>
<text class="sf" font-size="53" font-style="italic" stroke="#000" stroke-width="0.25" transform="translate(52.60 1088.07) rotate(-90) scale(0.9459 0.9580)">κ</text>
<text class="sf" font-size="53" stroke="#000" stroke-width="0.25" transform="translate(52.82 1055.04) rotate(-90) scale(0.8117 1.1114)">(</text>
<text class="sf" font-size="53" font-style="italic" stroke="#000" stroke-width="0.25" transform="translate(51.21 1041.83) rotate(-90) scale(0.9862 1.0804)">t</text>
<text class="sf" font-size="53" stroke="#000" stroke-width="0.25" transform="translate(52.82 1019.52) rotate(-90) scale(0.8595 1.1114)">) </text>
<text class="sf" font-size="53" stroke="#000" stroke-width="0.8" transform="translate(56.65 988.58) rotate(-90) scale(0.5072 1.2143)">[</text>
<text class="sf" font-size="53" stroke="#000" stroke-width="0.25" transform="translate(51.97 979.39) rotate(-90) scale(1.0726 1.0002)">rad</text>
<text class="sf" font-size="53" stroke="#000" stroke-width="0.8" transform="translate(56.65 904.99) rotate(-90) scale(0.5394 1.2143)">]</text>
<text class="sf" font-size="42.5" letter-spacing="2.4" transform="translate(94.78 1277.50) scale(1.045 1)">20</text>
<text class="sf" font-size="42.5" letter-spacing="2.4" transform="translate(94.78 1326.55) scale(1.045 1)">10</text>
<text class="sf" font-size="42.5" letter-spacing="2.4" transform="translate(119.49 1375.60) scale(1.045 1)">0</text>
<text class="sf" font-size="42.5" transform="translate(62.02 1424.80) scale(1.1846 1.0000)">−</text>
<text class="sf" font-size="42.5" letter-spacing="2.4" transform="translate(94.78 1424.65) scale(1.045 1)">10</text>
<text class="sf" font-size="42.5" transform="translate(62.02 1473.85) scale(1.1846 1.0000)">−</text>
<text class="sf" font-size="42.5" letter-spacing="2.4" transform="translate(94.78 1473.70) scale(1.045 1)">20</text>
<text class="sf" font-size="42.5" letter-spacing="1.2" transform="translate(135.69 1529.70) scale(1.045 1)">0.0</text>
<text class="sf" font-size="42.5" letter-spacing="1.2" transform="translate(245.72 1529.70) scale(1.045 1)">0.2</text>
<text class="sf" font-size="42.5" letter-spacing="1.2" transform="translate(354.70 1529.70) scale(1.045 1)">0.4</text>
<text class="sf" font-size="42.5" letter-spacing="1.2" transform="translate(464.38 1529.70) scale(1.045 1)">0.6</text>
<text class="sf" font-size="42.5" letter-spacing="1.2" transform="translate(574.41 1529.70) scale(1.045 1)">0.8</text>
<text class="sf" font-size="42.5" letter-spacing="1.2" transform="translate(683.05 1529.70) scale(1.045 1)">1.0</text>
<text class="sf" font-size="42.5" letter-spacing="1.2" transform="translate(793.07 1529.70) scale(1.045 1)">1.2</text>
<text class="sf" font-size="42.5" letter-spacing="1.2" transform="translate(902.06 1529.70) scale(1.045 1)">1.4</text>
<text class="sf" font-size="51" stroke="#000" stroke-width="0.25" transform="translate(479.74 1587.81) scale(1.2086 1.0311)">Time </text>
<text class="sf" font-size="51" stroke="#000" stroke-width="0.7" transform="translate(627.35 1592.55) scale(0.6155 1.2261)">[</text>
<text class="sf" font-size="51" stroke="#000" stroke-width="0.25" transform="translate(637.07 1588.06) scale(1.1996 0.9851)">s</text>
<text class="sf" font-size="51" stroke="#000" stroke-width="0.7" transform="translate(661.23 1592.55) scale(0.6155 1.2261)">]</text>
<text class="sc" font-size="32" stroke="#000" stroke-width="0.25" transform="translate(137.10 1206.70) scale(0.9946 0.9872)">X </text>
<text class="sc" font-size="32" stroke="#000" stroke-width="0.15" transform="translate(166.51 1206.52) scale(1.1976 0.9673)">10</text>
<text class="sc" font-size="24" transform="translate(209.48 1192.20) scale(1.2108 1.0000)">−</text>
<text class="sc" font-size="24" stroke="#000" stroke-width="0.1" transform="translate(230.19 1192.84) scale(1.2046 0.9469)">3</text>
<text class="sf" font-size="53" font-style="italic" stroke="#000" stroke-width="0.25" transform="translate(44.05 1462.53) rotate(-90) scale(1.0197 1.0212)">θ</text>
<text class="sf" font-size="53" stroke="#000" stroke-width="0.25" transform="translate(45.11 1431.83) rotate(-90) scale(0.8050 1.1380)">(</text>
<text class="sf" font-size="53" font-style="italic" stroke="#000" stroke-width="0.25" transform="translate(43.58 1417.59) rotate(-90) scale(1.0801 1.1154)">t</text>
<text class="sf" font-size="53" stroke="#000" stroke-width="0.25" transform="translate(45.11 1395.72) rotate(-90) scale(0.8595 1.1380)">) </text>
<text class="sf" font-size="53" stroke="#000" stroke-width="0.8" transform="translate(49.03 1364.77) rotate(-90) scale(0.5957 1.2433)">[</text>
<text class="sf" font-size="53" stroke="#000" stroke-width="0.25" transform="translate(43.96 1353.60) rotate(-90) scale(1.0831 1.0185)">rad</text>
<text class="sf" font-size="53" stroke="#000" stroke-width="0.8" transform="translate(49.03 1278.49) rotate(-90) scale(0.5394 1.2433)">]</text>
<text class="ss" font-size="52" font-weight="bold" transform="translate(14.75 48.34) scale(1.0495 0.9987)">a)</text>
<text class="ss" font-size="52" font-weight="bold" transform="translate(23.15 825.83) scale(1.0603 0.9907)">b)</text>
</svg></body></html>
